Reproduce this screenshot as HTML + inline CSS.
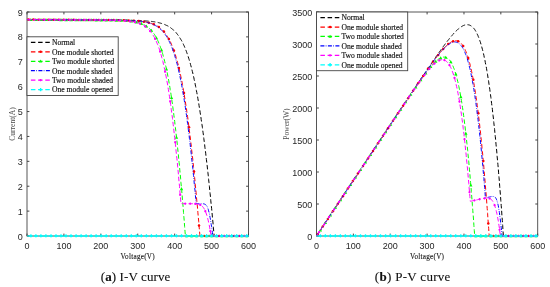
<!DOCTYPE html>
<html><head><meta charset="utf-8"><title>I-V and P-V curves</title><style>
html,body{margin:0;padding:0;background:#fff;}
body{width:550px;height:287px;overflow:hidden;}
svg{display:block;}

.tk{font-family:"Liberation Sans",Arial,sans-serif;font-size:9px;fill:#262626;}
.al{font-family:"Liberation Serif","Times New Roman",serif;font-size:7.2px;letter-spacing:0.25px;fill:#111;stroke:#111;stroke-width:0.1px;}
.yl{font-family:"Liberation Serif","Times New Roman",serif;font-size:7.5px;fill:#4a4a4a;}
.lg{font-family:"Liberation Serif","Times New Roman",serif;font-size:7.6px;fill:#111;stroke:#111;stroke-width:0.15px;}
.cap{font-family:"Liberation Serif","Times New Roman",serif;font-size:13px;letter-spacing:0.1px;fill:#111;stroke:#111;stroke-width:0.12px;}
</style></head>
<body>
<svg width="550" height="287" viewBox="0 0 550 287"><defs><clipPath id="clipL"><rect x="25.5" y="10.5" width="224.5" height="227.0"/></clipPath><clipPath id="clipR"><rect x="315.0" y="10.5" width="224.20000000000005" height="227.0"/></clipPath></defs><rect width="550" height="287" fill="#fff"/><rect x="27.0" y="12.0" width="221.5" height="224.0" fill="none" stroke="#444444" stroke-width="0.9"/><path d="M27.00 236.0v-2.4M27.00 12.0v2.4M63.92 236.0v-2.4M63.92 12.0v2.4M100.83 236.0v-2.4M100.83 12.0v2.4M137.75 236.0v-2.4M137.75 12.0v2.4M174.67 236.0v-2.4M174.67 12.0v2.4M211.58 236.0v-2.4M211.58 12.0v2.4M248.50 236.0v-2.4M248.50 12.0v2.4M27.0 236.00h2.4M248.5 236.00h-2.4M27.0 211.11h2.4M248.5 211.11h-2.4M27.0 186.22h2.4M248.5 186.22h-2.4M27.0 161.33h2.4M248.5 161.33h-2.4M27.0 136.44h2.4M248.5 136.44h-2.4M27.0 111.56h2.4M248.5 111.56h-2.4M27.0 86.67h2.4M248.5 86.67h-2.4M27.0 61.78h2.4M248.5 61.78h-2.4M27.0 36.89h2.4M248.5 36.89h-2.4M27.0 12.00h2.4M248.5 12.00h-2.4" stroke="#444444" stroke-width="1" fill="none"/><text x="27.00" y="248.6" text-anchor="middle" class="tk">0</text><text x="63.92" y="248.6" text-anchor="middle" class="tk">100</text><text x="100.83" y="248.6" text-anchor="middle" class="tk">200</text><text x="137.75" y="248.6" text-anchor="middle" class="tk">300</text><text x="174.67" y="248.6" text-anchor="middle" class="tk">400</text><text x="211.58" y="248.6" text-anchor="middle" class="tk">500</text><text x="248.50" y="248.6" text-anchor="middle" class="tk">600</text><text x="22.80" y="239.50" text-anchor="end" class="tk">0</text><text x="22.80" y="214.61" text-anchor="end" class="tk">1</text><text x="22.80" y="189.72" text-anchor="end" class="tk">2</text><text x="22.80" y="164.83" text-anchor="end" class="tk">3</text><text x="22.80" y="139.94" text-anchor="end" class="tk">4</text><text x="22.80" y="115.06" text-anchor="end" class="tk">5</text><text x="22.80" y="90.17" text-anchor="end" class="tk">6</text><text x="22.80" y="65.28" text-anchor="end" class="tk">7</text><text x="22.80" y="40.39" text-anchor="end" class="tk">8</text><text x="22.80" y="15.50" text-anchor="end" class="tk">9</text><text x="137.75" y="258.8" text-anchor="middle" class="al">Voltage(V)</text><text transform="translate(14.60,124.00) rotate(-90)" text-anchor="middle" class="yl">Current(A)</text><g clip-path="url(#clipL)"><polyline points="27.0,19.6 27.4,19.6 27.7,19.6 28.1,19.6 28.5,19.6 28.8,19.6 29.2,19.6 29.6,19.6 30.0,19.6 30.3,19.6 30.7,19.6 31.1,19.6 31.4,19.6 31.8,19.6 32.2,19.6 32.5,19.6 32.9,19.6 33.3,19.6 33.6,19.6 34.0,19.6 34.4,19.6 34.8,19.6 35.1,19.6 35.5,19.6 35.9,19.6 36.2,19.6 36.6,19.6 37.0,19.6 37.3,19.6 37.7,19.6 38.1,19.7 38.4,19.7 38.8,19.7 39.2,19.7 39.6,19.7 39.9,19.7 40.3,19.7 40.7,19.7 41.0,19.7 41.4,19.7 41.8,19.7 42.1,19.7 42.5,19.7 42.9,19.7 43.2,19.7 43.6,19.7 44.0,19.7 44.4,19.7 44.7,19.7 45.1,19.7 45.5,19.7 45.8,19.7 46.2,19.7 46.6,19.7 46.9,19.7 47.3,19.7 47.7,19.7 48.0,19.7 48.4,19.7 48.8,19.7 49.1,19.7 49.5,19.7 49.9,19.7 50.3,19.7 50.6,19.7 51.0,19.7 51.4,19.7 51.7,19.7 52.1,19.7 52.5,19.7 52.8,19.7 53.2,19.7 53.6,19.7 53.9,19.7 54.3,19.7 54.7,19.7 55.1,19.7 55.4,19.7 55.8,19.7 56.2,19.7 56.5,19.8 56.9,19.8 57.3,19.8 57.6,19.8 58.0,19.8 58.4,19.8 58.7,19.8 59.1,19.8 59.5,19.8 59.9,19.8 60.2,19.8 60.6,19.8 61.0,19.8 61.3,19.8 61.7,19.8 62.1,19.8 62.4,19.8 62.8,19.8 63.2,19.8 63.5,19.8 63.9,19.8 64.3,19.8 64.7,19.8 65.0,19.8 65.4,19.8 65.8,19.8 66.1,19.8 66.5,19.8 66.9,19.8 67.2,19.8 67.6,19.8 68.0,19.8 68.3,19.8 68.7,19.8 69.1,19.8 69.5,19.8 69.8,19.8 70.2,19.8 70.6,19.8 70.9,19.8 71.3,19.8 71.7,19.8 72.0,19.8 72.4,19.8 72.8,19.8 73.1,19.8 73.5,19.8 73.9,19.8 74.3,19.8 74.6,19.8 75.0,19.9 75.4,19.9 75.7,19.9 76.1,19.9 76.5,19.9 76.8,19.9 77.2,19.9 77.6,19.9 77.9,19.9 78.3,19.9 78.7,19.9 79.1,19.9 79.4,19.9 79.8,19.9 80.2,19.9 80.5,19.9 80.9,19.9 81.3,19.9 81.6,19.9 82.0,19.9 82.4,19.9 82.7,19.9 83.1,19.9 83.5,19.9 83.9,19.9 84.2,19.9 84.6,19.9 85.0,19.9 85.3,19.9 85.7,19.9 86.1,19.9 86.4,19.9 86.8,19.9 87.2,19.9 87.5,19.9 87.9,19.9 88.3,19.9 88.7,19.9 89.0,19.9 89.4,19.9 89.8,19.9 90.1,19.9 90.5,19.9 90.9,19.9 91.2,19.9 91.6,19.9 92.0,19.9 92.3,19.9 92.7,19.9 93.1,20.0 93.5,20.0 93.8,20.0 94.2,20.0 94.6,20.0 94.9,20.0 95.3,20.0 95.7,20.0 96.0,20.0 96.4,20.0 96.8,20.0 97.1,20.0 97.5,20.0 97.9,20.0 98.2,20.0 98.6,20.0 99.0,20.0 99.4,20.0 99.7,20.0 100.1,20.0 100.5,20.0 100.8,20.0 101.2,20.0 101.6,20.0 101.9,20.0 102.3,20.0 102.7,20.0 103.0,20.0 103.4,20.0 103.8,20.0 104.2,20.0 104.5,20.0 104.9,20.0 105.3,20.0 105.6,20.0 106.0,20.0 106.4,20.0 106.7,20.0 107.1,20.0 107.5,20.0 107.8,20.0 108.2,20.0 108.6,20.0 109.0,20.1 109.3,20.1 109.7,20.1 110.1,20.1 110.4,20.1 110.8,20.1 111.2,20.1 111.5,20.1 111.9,20.1 112.3,20.1 112.6,20.1 113.0,20.1 113.4,20.1 113.8,20.1 114.1,20.1 114.5,20.1 114.9,20.1 115.2,20.1 115.6,20.1 116.0,20.1 116.3,20.1 116.7,20.1 117.1,20.1 117.4,20.1 117.8,20.1 118.2,20.1 118.6,20.1 118.9,20.1 119.3,20.1 119.7,20.1 120.0,20.1 120.4,20.2 120.8,20.2 121.1,20.2 121.5,20.2 121.9,20.2 122.2,20.2 122.6,20.2 123.0,20.2 123.4,20.2 123.7,20.2 124.1,20.2 124.5,20.2 124.8,20.2 125.2,20.2 125.6,20.2 125.9,20.2 126.3,20.2 126.7,20.2 127.0,20.2 127.4,20.2 127.8,20.3 128.2,20.3 128.5,20.3 128.9,20.3 129.3,20.3 129.6,20.3 130.0,20.3 130.4,20.3 130.7,20.3 131.1,20.3 131.5,20.3 131.8,20.3 132.2,20.3 132.6,20.4 133.0,20.4 133.3,20.4 133.7,20.4 134.1,20.4 134.4,20.4 134.8,20.4 135.2,20.4 135.5,20.4 135.9,20.4 136.3,20.5 136.6,20.5 137.0,20.5 137.4,20.5 137.8,20.5 138.1,20.5 138.5,20.5 138.9,20.5 139.2,20.6 139.6,20.6 140.0,20.6 140.3,20.6 140.7,20.6 141.1,20.6 141.4,20.7 141.8,20.7 142.2,20.7 142.5,20.7 142.9,20.7 143.3,20.8 143.7,20.8 144.0,20.8 144.4,20.8 144.8,20.8 145.1,20.9 145.5,20.9 145.9,20.9 146.2,20.9 146.6,21.0 147.0,21.0 147.3,21.0 147.7,21.1 148.1,21.1 148.5,21.1 148.8,21.2 149.2,21.2 149.6,21.2 149.9,21.3 150.3,21.3 150.7,21.4 151.0,21.4 151.4,21.4 151.8,21.5 152.1,21.5 152.5,21.6 152.9,21.6 153.3,21.7 153.6,21.7 154.0,21.8 154.4,21.8 154.7,21.9 155.1,22.0 155.5,22.0 155.8,22.1 156.2,22.2 156.6,22.2 156.9,22.3 157.3,22.4 157.7,22.4 158.1,22.5 158.4,22.6 158.8,22.7 159.2,22.8 159.5,22.9 159.9,23.0 160.3,23.1 160.6,23.2 161.0,23.3 161.4,23.4 161.7,23.5 162.1,23.6 162.5,23.7 162.9,23.9 163.2,24.0 163.6,24.1 164.0,24.3 164.3,24.4 164.7,24.5 165.1,24.7 165.4,24.9 165.8,25.0 166.2,25.2 166.5,25.4 166.9,25.6 167.3,25.7 167.7,25.9 168.0,26.1 168.4,26.3 168.8,26.6 169.1,26.8 169.5,27.0 169.9,27.2 170.2,27.5 170.6,27.7 171.0,28.0 171.3,28.3 171.7,28.6 172.1,28.9 172.5,29.2 172.8,29.5 173.2,29.8 173.6,30.1 173.9,30.5 174.3,30.8 174.7,31.2 175.0,31.6 175.4,32.0 175.8,32.4 176.1,32.8 176.5,33.2 176.9,33.6 177.3,34.1 177.6,34.6 178.0,35.1 178.4,35.6 178.7,36.1 179.1,36.6 179.5,37.2 179.8,37.8 180.2,38.4 180.6,39.0 180.9,39.6 181.3,40.2 181.7,40.9 182.1,41.6 182.4,42.3 182.8,43.0 183.2,43.8 183.5,44.6 183.9,45.4 184.3,46.2 184.6,47.1 185.0,47.9 185.4,48.8 185.7,49.8 186.1,50.7 186.5,51.7 186.8,52.7 187.2,53.7 187.6,54.8 188.0,55.9 188.3,57.0 188.7,58.2 189.1,59.4 189.4,60.6 189.8,61.8 190.2,63.1 190.5,64.4 190.9,65.8 191.3,67.2 191.6,68.6 192.0,70.1 192.4,71.6 192.8,73.1 193.1,74.7 193.5,76.3 193.9,77.9 194.2,79.6 194.6,81.3 195.0,83.1 195.3,84.9 195.7,86.7 196.1,88.6 196.4,90.6 196.8,92.5 197.2,94.6 197.6,96.6 197.9,98.7 198.3,100.9 198.7,103.0 199.0,105.3 199.4,107.6 199.8,109.9 200.1,112.2 200.5,114.7 200.9,117.1 201.2,119.6 201.6,122.2 202.0,124.8 202.4,127.4 202.7,130.1 203.1,132.8 203.5,135.6 203.8,138.4 204.2,141.3 204.6,144.2 204.9,147.2 205.3,150.2 205.7,153.2 206.0,156.3 206.4,159.5 206.8,162.7 207.2,165.9 207.5,169.2 207.9,172.5 208.3,175.9 208.6,179.3 209.0,182.8 209.4,186.3 209.7,189.9 210.1,193.5 210.5,197.1 210.8,200.8 211.2,204.6 211.6,208.3 212.0,212.2 212.3,216.0 212.7,219.9 213.1,223.9 213.4,227.9 213.8,231.9 214.2,236.0 214.5,236.0 214.9,236.0 215.3,236.0 215.6,236.0 216.0,236.0 216.4,236.0 216.8,236.0 217.1,236.0 217.5,236.0 217.9,236.0 218.2,236.0 218.6,236.0 219.0,236.0 219.3,236.0 219.7,236.0 220.1,236.0 220.4,236.0 220.8,236.0 221.2,236.0 221.6,236.0 221.9,236.0 222.3,236.0 222.7,236.0 223.0,236.0 223.4,236.0 223.8,236.0 224.1,236.0 224.5,236.0 224.9,236.0 225.2,236.0 225.6,236.0 226.0,236.0 226.3,236.0 226.7,236.0 227.1,236.0 227.5,236.0 227.8,236.0 228.2,236.0 228.6,236.0 228.9,236.0 229.3,236.0 229.7,236.0 230.0,236.0 230.4,236.0 230.8,236.0 231.1,236.0 231.5,236.0 231.9,236.0 232.3,236.0 232.6,236.0 233.0,236.0 233.4,236.0 233.7,236.0 234.1,236.0 234.5,236.0 234.8,236.0 235.2,236.0 235.6,236.0 235.9,236.0 236.3,236.0 236.7,236.0 237.1,236.0 237.4,236.0 237.8,236.0 238.2,236.0 238.5,236.0 238.9,236.0 239.3,236.0 239.6,236.0 240.0,236.0 240.4,236.0 240.7,236.0 241.1,236.0 241.5,236.0 241.9,236.0 242.2,236.0 242.6,236.0 243.0,236.0 243.3,236.0 243.7,236.0 244.1,236.0 244.4,236.0 244.8,236.0 245.2,236.0 245.5,236.0 245.9,236.0 246.3,236.0 246.7,236.0 247.0,236.0 247.4,236.0 247.8,236.0 248.1,236.0 248.5,236.0" fill="none" stroke="#000000" stroke-width="1.0" stroke-dasharray="4.5 2.4"/><polyline points="27.0,19.6 27.4,19.6 27.7,19.6 28.1,19.6 28.5,19.6 28.8,19.6 29.2,19.6 29.6,19.6 30.0,19.6 30.3,19.6 30.7,19.6 31.1,19.6 31.4,19.6 31.8,19.6 32.2,19.6 32.5,19.6 32.9,19.6 33.3,19.6 33.6,19.6 34.0,19.6 34.4,19.6 34.8,19.6 35.1,19.6 35.5,19.6 35.9,19.6 36.2,19.6 36.6,19.6 37.0,19.6 37.3,19.6 37.7,19.6 38.1,19.7 38.4,19.7 38.8,19.7 39.2,19.7 39.6,19.7 39.9,19.7 40.3,19.7 40.7,19.7 41.0,19.7 41.4,19.7 41.8,19.7 42.1,19.7 42.5,19.7 42.9,19.7 43.2,19.7 43.6,19.7 44.0,19.7 44.4,19.7 44.7,19.7 45.1,19.7 45.5,19.7 45.8,19.7 46.2,19.7 46.6,19.7 46.9,19.7 47.3,19.7 47.7,19.7 48.0,19.7 48.4,19.7 48.8,19.7 49.1,19.7 49.5,19.7 49.9,19.7 50.3,19.7 50.6,19.7 51.0,19.7 51.4,19.7 51.7,19.7 52.1,19.7 52.5,19.7 52.8,19.7 53.2,19.7 53.6,19.7 53.9,19.7 54.3,19.7 54.7,19.7 55.1,19.7 55.4,19.7 55.8,19.7 56.2,19.7 56.5,19.8 56.9,19.8 57.3,19.8 57.6,19.8 58.0,19.8 58.4,19.8 58.7,19.8 59.1,19.8 59.5,19.8 59.9,19.8 60.2,19.8 60.6,19.8 61.0,19.8 61.3,19.8 61.7,19.8 62.1,19.8 62.4,19.8 62.8,19.8 63.2,19.8 63.5,19.8 63.9,19.8 64.3,19.8 64.7,19.8 65.0,19.8 65.4,19.8 65.8,19.8 66.1,19.8 66.5,19.8 66.9,19.8 67.2,19.8 67.6,19.8 68.0,19.8 68.3,19.8 68.7,19.8 69.1,19.8 69.5,19.8 69.8,19.8 70.2,19.8 70.6,19.8 70.9,19.8 71.3,19.8 71.7,19.8 72.0,19.8 72.4,19.8 72.8,19.8 73.1,19.8 73.5,19.8 73.9,19.8 74.3,19.8 74.6,19.8 75.0,19.9 75.4,19.9 75.7,19.9 76.1,19.9 76.5,19.9 76.8,19.9 77.2,19.9 77.6,19.9 77.9,19.9 78.3,19.9 78.7,19.9 79.1,19.9 79.4,19.9 79.8,19.9 80.2,19.9 80.5,19.9 80.9,19.9 81.3,19.9 81.6,19.9 82.0,19.9 82.4,19.9 82.7,19.9 83.1,19.9 83.5,19.9 83.9,19.9 84.2,19.9 84.6,19.9 85.0,19.9 85.3,19.9 85.7,19.9 86.1,19.9 86.4,19.9 86.8,19.9 87.2,19.9 87.5,19.9 87.9,19.9 88.3,19.9 88.7,19.9 89.0,19.9 89.4,19.9 89.8,19.9 90.1,19.9 90.5,19.9 90.9,19.9 91.2,19.9 91.6,19.9 92.0,19.9 92.3,19.9 92.7,20.0 93.1,20.0 93.5,20.0 93.8,20.0 94.2,20.0 94.6,20.0 94.9,20.0 95.3,20.0 95.7,20.0 96.0,20.0 96.4,20.0 96.8,20.0 97.1,20.0 97.5,20.0 97.9,20.0 98.2,20.0 98.6,20.0 99.0,20.0 99.4,20.0 99.7,20.0 100.1,20.0 100.5,20.0 100.8,20.0 101.2,20.0 101.6,20.0 101.9,20.0 102.3,20.0 102.7,20.0 103.0,20.0 103.4,20.0 103.8,20.0 104.2,20.0 104.5,20.0 104.9,20.0 105.3,20.0 105.6,20.0 106.0,20.0 106.4,20.0 106.7,20.1 107.1,20.1 107.5,20.1 107.8,20.1 108.2,20.1 108.6,20.1 109.0,20.1 109.3,20.1 109.7,20.1 110.1,20.1 110.4,20.1 110.8,20.1 111.2,20.1 111.5,20.1 111.9,20.1 112.3,20.1 112.6,20.1 113.0,20.1 113.4,20.1 113.8,20.1 114.1,20.1 114.5,20.1 114.9,20.1 115.2,20.1 115.6,20.1 116.0,20.1 116.3,20.2 116.7,20.2 117.1,20.2 117.4,20.2 117.8,20.2 118.2,20.2 118.6,20.2 118.9,20.2 119.3,20.2 119.7,20.2 120.0,20.2 120.4,20.2 120.8,20.2 121.1,20.2 121.5,20.2 121.9,20.2 122.2,20.3 122.6,20.3 123.0,20.3 123.4,20.3 123.7,20.3 124.1,20.3 124.5,20.3 124.8,20.3 125.2,20.3 125.6,20.3 125.9,20.3 126.3,20.4 126.7,20.4 127.0,20.4 127.4,20.4 127.8,20.4 128.2,20.4 128.5,20.4 128.9,20.4 129.3,20.5 129.6,20.5 130.0,20.5 130.4,20.5 130.7,20.5 131.1,20.5 131.5,20.5 131.8,20.6 132.2,20.6 132.6,20.6 133.0,20.6 133.3,20.6 133.7,20.7 134.1,20.7 134.4,20.7 134.8,20.7 135.2,20.8 135.5,20.8 135.9,20.8 136.3,20.8 136.6,20.9 137.0,20.9 137.4,20.9 137.8,20.9 138.1,21.0 138.5,21.0 138.9,21.0 139.2,21.1 139.6,21.1 140.0,21.2 140.3,21.2 140.7,21.2 141.1,21.3 141.4,21.3 141.8,21.4 142.2,21.4 142.5,21.5 142.9,21.5 143.3,21.6 143.7,21.6 144.0,21.7 144.4,21.7 144.8,21.8 145.1,21.9 145.5,21.9 145.9,22.0 146.2,22.1 146.6,22.2 147.0,22.2 147.3,22.3 147.7,22.4 148.1,22.5 148.5,22.6 148.8,22.7 149.2,22.8 149.6,22.9 149.9,23.0 150.3,23.1 150.7,23.2 151.0,23.3 151.4,23.4 151.8,23.5 152.1,23.7 152.5,23.8 152.9,23.9 153.3,24.1 153.6,24.2 154.0,24.4 154.4,24.6 154.7,24.7 155.1,24.9 155.5,25.1 155.8,25.3 156.2,25.5 156.6,25.7 156.9,25.9 157.3,26.1 157.7,26.3 158.1,26.6 158.4,26.8 158.8,27.1 159.2,27.3 159.5,27.6 159.9,27.9 160.3,28.2 160.6,28.5 161.0,28.8 161.4,29.1 161.7,29.4 162.1,29.8 162.5,30.1 162.9,30.5 163.2,30.9 163.6,31.3 164.0,31.7 164.3,32.2 164.7,32.6 165.1,33.1 165.4,33.6 165.8,34.0 166.2,34.6 166.5,35.1 166.9,35.6 167.3,36.2 167.7,36.8 168.0,37.4 168.4,38.0 168.8,38.7 169.1,39.4 169.5,40.1 169.9,40.8 170.2,41.5 170.6,42.3 171.0,43.1 171.3,43.9 171.7,44.8 172.1,45.7 172.5,46.6 172.8,47.5 173.2,48.5 173.6,49.4 173.9,50.5 174.3,51.5 174.7,52.6 175.0,53.7 175.4,54.9 175.8,56.1 176.1,57.3 176.5,58.6 176.9,59.9 177.3,61.2 177.6,62.6 178.0,64.0 178.4,65.5 178.7,67.0 179.1,68.5 179.5,70.1 179.8,71.7 180.2,73.4 180.6,75.1 180.9,76.8 181.3,78.6 181.7,80.5 182.1,82.4 182.4,84.3 182.8,86.3 183.2,88.3 183.5,90.4 183.9,92.6 184.3,94.8 184.6,97.0 185.0,99.3 185.4,101.6 185.7,104.0 186.1,106.4 186.5,108.9 186.8,111.5 187.2,114.1 187.6,116.7 188.0,119.4 188.3,122.2 188.7,125.0 189.1,127.9 189.4,130.8 189.8,133.8 190.2,136.8 190.5,139.9 190.9,143.0 191.3,146.2 191.6,149.5 192.0,152.8 192.4,156.1 192.8,159.5 193.1,163.0 193.5,166.5 193.9,170.1 194.2,173.7 194.6,177.4 195.0,181.1 195.3,184.9 195.7,188.7 196.1,192.6 196.4,196.5 196.8,200.5 197.2,204.6 197.6,208.7 197.9,212.8 198.3,217.0 198.7,221.2 199.0,225.5 199.4,229.9 199.8,234.3 200.1,236.0 200.5,236.0 200.9,236.0 201.2,236.0 201.6,236.0 202.0,236.0 202.4,236.0 202.7,236.0 203.1,236.0 203.5,236.0 203.8,236.0 204.2,236.0 204.6,236.0 204.9,236.0 205.3,236.0 205.7,236.0 206.0,236.0 206.4,236.0 206.8,236.0 207.2,236.0 207.5,236.0 207.9,236.0 208.3,236.0 208.6,236.0 209.0,236.0 209.4,236.0 209.7,236.0 210.1,236.0 210.5,236.0 210.8,236.0 211.2,236.0 211.6,236.0 212.0,236.0 212.3,236.0 212.7,236.0 213.1,236.0 213.4,236.0 213.8,236.0 214.2,236.0 214.5,236.0 214.9,236.0 215.3,236.0 215.6,236.0 216.0,236.0 216.4,236.0 216.8,236.0 217.1,236.0 217.5,236.0 217.9,236.0 218.2,236.0 218.6,236.0 219.0,236.0 219.3,236.0 219.7,236.0 220.1,236.0 220.4,236.0 220.8,236.0 221.2,236.0 221.6,236.0 221.9,236.0 222.3,236.0 222.7,236.0 223.0,236.0 223.4,236.0 223.8,236.0 224.1,236.0 224.5,236.0 224.9,236.0 225.2,236.0 225.6,236.0 226.0,236.0 226.3,236.0 226.7,236.0 227.1,236.0 227.5,236.0 227.8,236.0 228.2,236.0 228.6,236.0 228.9,236.0 229.3,236.0 229.7,236.0 230.0,236.0 230.4,236.0 230.8,236.0 231.1,236.0 231.5,236.0 231.9,236.0 232.3,236.0 232.6,236.0 233.0,236.0 233.4,236.0 233.7,236.0 234.1,236.0 234.5,236.0 234.8,236.0 235.2,236.0 235.6,236.0 235.9,236.0 236.3,236.0 236.7,236.0 237.1,236.0 237.4,236.0 237.8,236.0 238.2,236.0 238.5,236.0 238.9,236.0 239.3,236.0 239.6,236.0 240.0,236.0 240.4,236.0 240.7,236.0 241.1,236.0 241.5,236.0 241.9,236.0 242.2,236.0 242.6,236.0 243.0,236.0 243.3,236.0 243.7,236.0 244.1,236.0 244.4,236.0 244.8,236.0 245.2,236.0 245.5,236.0 245.9,236.0 246.3,236.0 246.7,236.0 247.0,236.0 247.4,236.0 247.8,236.0 248.1,236.0 248.5,236.0" fill="none" stroke="#ff0000" stroke-width="1.0" stroke-dasharray="4.5 2.4"/><g fill="#ff0000"><circle cx="28.3" cy="19.6" r="1.25"/><circle cx="33.3" cy="19.6" r="1.25"/><circle cx="38.4" cy="19.7" r="1.25"/><circle cx="43.4" cy="19.7" r="1.25"/><circle cx="48.4" cy="19.7" r="1.25"/><circle cx="53.4" cy="19.7" r="1.25"/><circle cx="58.5" cy="19.8" r="1.25"/><circle cx="63.5" cy="19.8" r="1.25"/><circle cx="68.5" cy="19.8" r="1.25"/><circle cx="73.5" cy="19.8" r="1.25"/><circle cx="78.5" cy="19.9" r="1.25"/><circle cx="83.6" cy="19.9" r="1.25"/><circle cx="88.6" cy="19.9" r="1.25"/><circle cx="93.6" cy="20.0" r="1.25"/><circle cx="98.6" cy="20.0" r="1.25"/><circle cx="103.6" cy="20.0" r="1.25"/><circle cx="108.7" cy="20.1" r="1.25"/><circle cx="113.7" cy="20.1" r="1.25"/><circle cx="118.7" cy="20.2" r="1.25"/><circle cx="123.7" cy="20.3" r="1.25"/><circle cx="128.7" cy="20.4" r="1.25"/><circle cx="133.8" cy="20.7" r="1.25"/><circle cx="138.8" cy="21.0" r="1.25"/><circle cx="143.8" cy="21.7" r="1.25"/><circle cx="148.8" cy="22.7" r="1.25"/><circle cx="153.8" cy="24.3" r="1.25"/><circle cx="158.9" cy="27.1" r="1.25"/><circle cx="163.9" cy="31.6" r="1.25"/><circle cx="168.9" cy="39.0" r="1.25"/><circle cx="173.9" cy="50.5" r="1.25"/><circle cx="178.9" cy="67.9" r="1.25"/><circle cx="184.0" cy="93.0" r="1.25"/><circle cx="189.0" cy="127.3" r="1.25"/><circle cx="194.0" cy="171.5" r="1.25"/><circle cx="199.0" cy="225.5" r="1.25"/><circle cx="204.1" cy="236.0" r="1.25"/><circle cx="209.1" cy="236.0" r="1.25"/><circle cx="214.1" cy="236.0" r="1.25"/><circle cx="219.1" cy="236.0" r="1.25"/><circle cx="224.1" cy="236.0" r="1.25"/><circle cx="229.2" cy="236.0" r="1.25"/><circle cx="234.2" cy="236.0" r="1.25"/><circle cx="239.2" cy="236.0" r="1.25"/><circle cx="244.2" cy="236.0" r="1.25"/></g><polyline points="27.0,19.6 27.4,19.6 27.7,19.6 28.1,19.6 28.5,19.6 28.8,19.6 29.2,19.6 29.6,19.6 30.0,19.6 30.3,19.6 30.7,19.6 31.1,19.6 31.4,19.6 31.8,19.6 32.2,19.6 32.5,19.6 32.9,19.6 33.3,19.6 33.6,19.6 34.0,19.6 34.4,19.6 34.8,19.6 35.1,19.6 35.5,19.6 35.9,19.6 36.2,19.6 36.6,19.6 37.0,19.6 37.3,19.6 37.7,19.6 38.1,19.7 38.4,19.7 38.8,19.7 39.2,19.7 39.6,19.7 39.9,19.7 40.3,19.7 40.7,19.7 41.0,19.7 41.4,19.7 41.8,19.7 42.1,19.7 42.5,19.7 42.9,19.7 43.2,19.7 43.6,19.7 44.0,19.7 44.4,19.7 44.7,19.7 45.1,19.7 45.5,19.7 45.8,19.7 46.2,19.7 46.6,19.7 46.9,19.7 47.3,19.7 47.7,19.7 48.0,19.7 48.4,19.7 48.8,19.7 49.1,19.7 49.5,19.7 49.9,19.7 50.3,19.7 50.6,19.7 51.0,19.7 51.4,19.7 51.7,19.7 52.1,19.7 52.5,19.7 52.8,19.7 53.2,19.7 53.6,19.7 53.9,19.7 54.3,19.7 54.7,19.7 55.1,19.7 55.4,19.7 55.8,19.7 56.2,19.7 56.5,19.8 56.9,19.8 57.3,19.8 57.6,19.8 58.0,19.8 58.4,19.8 58.7,19.8 59.1,19.8 59.5,19.8 59.9,19.8 60.2,19.8 60.6,19.8 61.0,19.8 61.3,19.8 61.7,19.8 62.1,19.8 62.4,19.8 62.8,19.8 63.2,19.8 63.5,19.8 63.9,19.8 64.3,19.8 64.7,19.8 65.0,19.8 65.4,19.8 65.8,19.8 66.1,19.8 66.5,19.8 66.9,19.8 67.2,19.8 67.6,19.8 68.0,19.8 68.3,19.8 68.7,19.8 69.1,19.8 69.5,19.8 69.8,19.8 70.2,19.8 70.6,19.8 70.9,19.8 71.3,19.8 71.7,19.8 72.0,19.8 72.4,19.8 72.8,19.8 73.1,19.8 73.5,19.8 73.9,19.8 74.3,19.8 74.6,19.8 75.0,19.9 75.4,19.9 75.7,19.9 76.1,19.9 76.5,19.9 76.8,19.9 77.2,19.9 77.6,19.9 77.9,19.9 78.3,19.9 78.7,19.9 79.1,19.9 79.4,19.9 79.8,19.9 80.2,19.9 80.5,19.9 80.9,19.9 81.3,19.9 81.6,19.9 82.0,19.9 82.4,19.9 82.7,19.9 83.1,19.9 83.5,19.9 83.9,19.9 84.2,19.9 84.6,19.9 85.0,19.9 85.3,19.9 85.7,19.9 86.1,19.9 86.4,19.9 86.8,19.9 87.2,19.9 87.5,19.9 87.9,19.9 88.3,19.9 88.7,19.9 89.0,19.9 89.4,19.9 89.8,19.9 90.1,19.9 90.5,19.9 90.9,19.9 91.2,19.9 91.6,20.0 92.0,20.0 92.3,20.0 92.7,20.0 93.1,20.0 93.5,20.0 93.8,20.0 94.2,20.0 94.6,20.0 94.9,20.0 95.3,20.0 95.7,20.0 96.0,20.0 96.4,20.0 96.8,20.0 97.1,20.0 97.5,20.0 97.9,20.0 98.2,20.0 98.6,20.0 99.0,20.0 99.4,20.0 99.7,20.0 100.1,20.0 100.5,20.0 100.8,20.0 101.2,20.0 101.6,20.0 101.9,20.0 102.3,20.0 102.7,20.0 103.0,20.0 103.4,20.0 103.8,20.1 104.2,20.1 104.5,20.1 104.9,20.1 105.3,20.1 105.6,20.1 106.0,20.1 106.4,20.1 106.7,20.1 107.1,20.1 107.5,20.1 107.8,20.1 108.2,20.1 108.6,20.1 109.0,20.1 109.3,20.1 109.7,20.1 110.1,20.1 110.4,20.1 110.8,20.1 111.2,20.2 111.5,20.2 111.9,20.2 112.3,20.2 112.6,20.2 113.0,20.2 113.4,20.2 113.8,20.2 114.1,20.2 114.5,20.2 114.9,20.2 115.2,20.2 115.6,20.2 116.0,20.3 116.3,20.3 116.7,20.3 117.1,20.3 117.4,20.3 117.8,20.3 118.2,20.3 118.6,20.3 118.9,20.3 119.3,20.4 119.7,20.4 120.0,20.4 120.4,20.4 120.8,20.4 121.1,20.4 121.5,20.4 121.9,20.5 122.2,20.5 122.6,20.5 123.0,20.5 123.4,20.5 123.7,20.6 124.1,20.6 124.5,20.6 124.8,20.6 125.2,20.6 125.6,20.7 125.9,20.7 126.3,20.7 126.7,20.7 127.0,20.8 127.4,20.8 127.8,20.8 128.2,20.9 128.5,20.9 128.9,20.9 129.3,21.0 129.6,21.0 130.0,21.1 130.4,21.1 130.7,21.1 131.1,21.2 131.5,21.2 131.8,21.3 132.2,21.3 132.6,21.4 133.0,21.4 133.3,21.5 133.7,21.5 134.1,21.6 134.4,21.7 134.8,21.7 135.2,21.8 135.5,21.9 135.9,22.0 136.3,22.0 136.6,22.1 137.0,22.2 137.4,22.3 137.8,22.4 138.1,22.5 138.5,22.6 138.9,22.7 139.2,22.8 139.6,22.9 140.0,23.0 140.3,23.1 140.7,23.3 141.1,23.4 141.4,23.5 141.8,23.7 142.2,23.8 142.5,24.0 142.9,24.2 143.3,24.3 143.7,24.5 144.0,24.7 144.4,24.9 144.8,25.1 145.1,25.3 145.5,25.5 145.9,25.7 146.2,26.0 146.6,26.2 147.0,26.5 147.3,26.7 147.7,27.0 148.1,27.3 148.5,27.6 148.8,27.9 149.2,28.2 149.6,28.6 149.9,28.9 150.3,29.3 150.7,29.6 151.0,30.0 151.4,30.4 151.8,30.9 152.1,31.3 152.5,31.8 152.9,32.2 153.3,32.7 153.6,33.3 154.0,33.8 154.4,34.3 154.7,34.9 155.1,35.5 155.5,36.1 155.8,36.8 156.2,37.4 156.6,38.1 156.9,38.9 157.3,39.6 157.7,40.4 158.1,41.2 158.4,42.0 158.8,42.9 159.2,43.8 159.5,44.7 159.9,45.6 160.3,46.6 160.6,47.7 161.0,48.7 161.4,49.8 161.7,51.0 162.1,52.1 162.5,53.3 162.9,54.6 163.2,55.9 163.6,57.2 164.0,58.6 164.3,60.0 164.7,61.5 165.1,63.0 165.4,64.6 165.8,66.2 166.2,67.9 166.5,69.6 166.9,71.3 167.3,73.1 167.7,75.0 168.0,76.9 168.4,78.9 168.8,80.9 169.1,83.0 169.5,85.2 169.9,87.4 170.2,89.6 170.6,91.9 171.0,94.3 171.3,96.7 171.7,99.2 172.1,101.8 172.5,104.4 172.8,107.1 173.2,109.8 173.6,112.6 173.9,115.5 174.3,118.4 174.7,121.4 175.0,124.5 175.4,127.6 175.8,130.8 176.1,134.0 176.5,137.3 176.9,140.7 177.3,144.2 177.6,147.7 178.0,151.3 178.4,154.9 178.7,158.6 179.1,162.4 179.5,166.2 179.8,170.1 180.2,174.1 180.6,178.1 180.9,182.2 181.3,186.3 181.7,190.5 182.1,194.8 182.4,199.1 182.8,203.5 183.2,208.0 183.5,212.5 183.9,217.1 184.3,221.7 184.6,226.4 185.0,231.2 185.4,236.0 185.7,236.0 186.1,236.0 186.5,236.0 186.8,236.0 187.2,236.0 187.6,236.0 188.0,236.0 188.3,236.0 188.7,236.0 189.1,236.0 189.4,236.0 189.8,236.0 190.2,236.0 190.5,236.0 190.9,236.0 191.3,236.0 191.6,236.0 192.0,236.0 192.4,236.0 192.8,236.0 193.1,236.0 193.5,236.0 193.9,236.0 194.2,236.0 194.6,236.0 195.0,236.0 195.3,236.0 195.7,236.0 196.1,236.0 196.4,236.0 196.8,236.0 197.2,236.0 197.6,236.0 197.9,236.0 198.3,236.0 198.7,236.0 199.0,236.0 199.4,236.0 199.8,236.0 200.1,236.0 200.5,236.0 200.9,236.0 201.2,236.0 201.6,236.0 202.0,236.0 202.4,236.0 202.7,236.0 203.1,236.0 203.5,236.0 203.8,236.0 204.2,236.0 204.6,236.0 204.9,236.0 205.3,236.0 205.7,236.0 206.0,236.0 206.4,236.0 206.8,236.0 207.2,236.0 207.5,236.0 207.9,236.0 208.3,236.0 208.6,236.0 209.0,236.0 209.4,236.0 209.7,236.0 210.1,236.0 210.5,236.0 210.8,236.0 211.2,236.0 211.6,236.0 212.0,236.0 212.3,236.0 212.7,236.0 213.1,236.0 213.4,236.0 213.8,236.0 214.2,236.0 214.5,236.0 214.9,236.0 215.3,236.0 215.6,236.0 216.0,236.0 216.4,236.0 216.8,236.0 217.1,236.0 217.5,236.0 217.9,236.0 218.2,236.0 218.6,236.0 219.0,236.0 219.3,236.0 219.7,236.0 220.1,236.0 220.4,236.0 220.8,236.0 221.2,236.0 221.6,236.0 221.9,236.0 222.3,236.0 222.7,236.0 223.0,236.0 223.4,236.0 223.8,236.0 224.1,236.0 224.5,236.0 224.9,236.0 225.2,236.0 225.6,236.0 226.0,236.0 226.3,236.0 226.7,236.0 227.1,236.0 227.5,236.0 227.8,236.0 228.2,236.0 228.6,236.0 228.9,236.0 229.3,236.0 229.7,236.0 230.0,236.0 230.4,236.0 230.8,236.0 231.1,236.0 231.5,236.0 231.9,236.0 232.3,236.0 232.6,236.0 233.0,236.0 233.4,236.0 233.7,236.0 234.1,236.0 234.5,236.0 234.8,236.0 235.2,236.0 235.6,236.0 235.9,236.0 236.3,236.0 236.7,236.0 237.1,236.0 237.4,236.0 237.8,236.0 238.2,236.0 238.5,236.0 238.9,236.0 239.3,236.0 239.6,236.0 240.0,236.0 240.4,236.0 240.7,236.0 241.1,236.0 241.5,236.0 241.9,236.0 242.2,236.0 242.6,236.0 243.0,236.0 243.3,236.0 243.7,236.0 244.1,236.0 244.4,236.0 244.8,236.0 245.2,236.0 245.5,236.0 245.9,236.0 246.3,236.0 246.7,236.0 247.0,236.0 247.4,236.0 247.8,236.0 248.1,236.0 248.5,236.0" fill="none" stroke="#00ff00" stroke-width="1.0" stroke-dasharray="4.5 2.4"/><g fill="#00ff00"><path d="M30.9 17.9l1.7 3.1h-3.4z"/><path d="M35.9 17.9l1.7 3.1h-3.4z"/><path d="M41.0 18.0l1.7 3.1h-3.4z"/><path d="M46.0 18.0l1.7 3.1h-3.4z"/><path d="M51.0 18.0l1.7 3.1h-3.4z"/><path d="M56.0 18.0l1.7 3.1h-3.4z"/><path d="M61.0 18.1l1.7 3.1h-3.4z"/><path d="M66.1 18.1l1.7 3.1h-3.4z"/><path d="M71.1 18.1l1.7 3.1h-3.4z"/><path d="M76.1 18.2l1.7 3.1h-3.4z"/><path d="M81.1 18.2l1.7 3.1h-3.4z"/><path d="M86.1 18.2l1.7 3.1h-3.4z"/><path d="M91.2 18.2l1.7 3.1h-3.4z"/><path d="M96.2 18.3l1.7 3.1h-3.4z"/><path d="M101.2 18.3l1.7 3.1h-3.4z"/><path d="M106.2 18.4l1.7 3.1h-3.4z"/><path d="M111.2 18.5l1.7 3.1h-3.4z"/><path d="M116.3 18.6l1.7 3.1h-3.4z"/><path d="M121.3 18.7l1.7 3.1h-3.4z"/><path d="M126.3 19.0l1.7 3.1h-3.4z"/><path d="M131.3 19.5l1.7 3.1h-3.4z"/><path d="M136.3 20.4l1.7 3.1h-3.4z"/><path d="M141.4 21.8l1.7 3.1h-3.4z"/><path d="M146.4 24.4l1.7 3.1h-3.4z"/><path d="M151.4 28.7l1.7 3.1h-3.4z"/><path d="M156.4 36.2l1.7 3.1h-3.4z"/><path d="M161.5 48.3l1.7 3.1h-3.4z"/><path d="M166.5 67.5l1.7 3.1h-3.4z"/><path d="M171.5 96.0l1.7 3.1h-3.4z"/><path d="M176.5 135.6l1.7 3.1h-3.4z"/><path d="M181.5 187.1l1.7 3.1h-3.4z"/><path d="M186.6 234.3l1.7 3.1h-3.4z"/><path d="M191.6 234.3l1.7 3.1h-3.4z"/><path d="M196.6 234.3l1.7 3.1h-3.4z"/><path d="M201.6 234.3l1.7 3.1h-3.4z"/><path d="M206.6 234.3l1.7 3.1h-3.4z"/><path d="M211.7 234.3l1.7 3.1h-3.4z"/><path d="M216.7 234.3l1.7 3.1h-3.4z"/><path d="M221.7 234.3l1.7 3.1h-3.4z"/><path d="M226.7 234.3l1.7 3.1h-3.4z"/><path d="M231.7 234.3l1.7 3.1h-3.4z"/><path d="M236.8 234.3l1.7 3.1h-3.4z"/><path d="M241.8 234.3l1.7 3.1h-3.4z"/><path d="M246.8 234.3l1.7 3.1h-3.4z"/></g><polyline points="27.0,19.6 27.4,19.6 27.7,19.6 28.1,19.6 28.5,19.6 28.8,19.6 29.2,19.6 29.6,19.6 30.0,19.6 30.3,19.6 30.7,19.6 31.1,19.6 31.4,19.6 31.8,19.6 32.2,19.6 32.5,19.6 32.9,19.6 33.3,19.6 33.6,19.6 34.0,19.6 34.4,19.6 34.8,19.6 35.1,19.6 35.5,19.6 35.9,19.6 36.2,19.6 36.6,19.6 37.0,19.6 37.3,19.6 37.7,19.6 38.1,19.7 38.4,19.7 38.8,19.7 39.2,19.7 39.6,19.7 39.9,19.7 40.3,19.7 40.7,19.7 41.0,19.7 41.4,19.7 41.8,19.7 42.1,19.7 42.5,19.7 42.9,19.7 43.2,19.7 43.6,19.7 44.0,19.7 44.4,19.7 44.7,19.7 45.1,19.7 45.5,19.7 45.8,19.7 46.2,19.7 46.6,19.7 46.9,19.7 47.3,19.7 47.7,19.7 48.0,19.7 48.4,19.7 48.8,19.7 49.1,19.7 49.5,19.7 49.9,19.7 50.3,19.7 50.6,19.7 51.0,19.7 51.4,19.7 51.7,19.7 52.1,19.7 52.5,19.7 52.8,19.7 53.2,19.7 53.6,19.7 53.9,19.7 54.3,19.7 54.7,19.7 55.1,19.7 55.4,19.7 55.8,19.7 56.2,19.7 56.5,19.8 56.9,19.8 57.3,19.8 57.6,19.8 58.0,19.8 58.4,19.8 58.7,19.8 59.1,19.8 59.5,19.8 59.9,19.8 60.2,19.8 60.6,19.8 61.0,19.8 61.3,19.8 61.7,19.8 62.1,19.8 62.4,19.8 62.8,19.8 63.2,19.8 63.5,19.8 63.9,19.8 64.3,19.8 64.7,19.8 65.0,19.8 65.4,19.8 65.8,19.8 66.1,19.8 66.5,19.8 66.9,19.8 67.2,19.8 67.6,19.8 68.0,19.8 68.3,19.8 68.7,19.8 69.1,19.8 69.5,19.8 69.8,19.8 70.2,19.8 70.6,19.8 70.9,19.8 71.3,19.8 71.7,19.8 72.0,19.8 72.4,19.8 72.8,19.8 73.1,19.8 73.5,19.8 73.9,19.8 74.3,19.8 74.6,19.8 75.0,19.9 75.4,19.9 75.7,19.9 76.1,19.9 76.5,19.9 76.8,19.9 77.2,19.9 77.6,19.9 77.9,19.9 78.3,19.9 78.7,19.9 79.1,19.9 79.4,19.9 79.8,19.9 80.2,19.9 80.5,19.9 80.9,19.9 81.3,19.9 81.6,19.9 82.0,19.9 82.4,19.9 82.7,19.9 83.1,19.9 83.5,19.9 83.9,19.9 84.2,19.9 84.6,19.9 85.0,19.9 85.3,19.9 85.7,19.9 86.1,19.9 86.4,19.9 86.8,19.9 87.2,19.9 87.5,19.9 87.9,19.9 88.3,19.9 88.7,19.9 89.0,19.9 89.4,19.9 89.8,19.9 90.1,19.9 90.5,19.9 90.9,19.9 91.2,19.9 91.6,19.9 92.0,19.9 92.3,20.0 92.7,20.0 93.1,20.0 93.5,20.0 93.8,20.0 94.2,20.0 94.6,20.0 94.9,20.0 95.3,20.0 95.7,20.0 96.0,20.0 96.4,20.0 96.8,20.0 97.1,20.0 97.5,20.0 97.9,20.0 98.2,20.0 98.6,20.0 99.0,20.0 99.4,20.0 99.7,20.0 100.1,20.0 100.5,20.0 100.8,20.0 101.2,20.0 101.6,20.0 101.9,20.0 102.3,20.0 102.7,20.0 103.0,20.0 103.4,20.0 103.8,20.0 104.2,20.0 104.5,20.0 104.9,20.0 105.3,20.0 105.6,20.0 106.0,20.0 106.4,20.1 106.7,20.1 107.1,20.1 107.5,20.1 107.8,20.1 108.2,20.1 108.6,20.1 109.0,20.1 109.3,20.1 109.7,20.1 110.1,20.1 110.4,20.1 110.8,20.1 111.2,20.1 111.5,20.1 111.9,20.1 112.3,20.1 112.6,20.1 113.0,20.1 113.4,20.1 113.8,20.1 114.1,20.1 114.5,20.1 114.9,20.1 115.2,20.1 115.6,20.2 116.0,20.2 116.3,20.2 116.7,20.2 117.1,20.2 117.4,20.2 117.8,20.2 118.2,20.2 118.6,20.2 118.9,20.2 119.3,20.2 119.7,20.2 120.0,20.2 120.4,20.2 120.8,20.2 121.1,20.2 121.5,20.3 121.9,20.3 122.2,20.3 122.6,20.3 123.0,20.3 123.4,20.3 123.7,20.3 124.1,20.3 124.5,20.3 124.8,20.3 125.2,20.3 125.6,20.4 125.9,20.4 126.3,20.4 126.7,20.4 127.0,20.4 127.4,20.4 127.8,20.4 128.2,20.4 128.5,20.5 128.9,20.5 129.3,20.5 129.6,20.5 130.0,20.5 130.4,20.5 130.7,20.6 131.1,20.6 131.5,20.6 131.8,20.6 132.2,20.6 132.6,20.6 133.0,20.7 133.3,20.7 133.7,20.7 134.1,20.7 134.4,20.8 134.8,20.8 135.2,20.8 135.5,20.8 135.9,20.9 136.3,20.9 136.6,20.9 137.0,21.0 137.4,21.0 137.8,21.0 138.1,21.1 138.5,21.1 138.9,21.1 139.2,21.2 139.6,21.2 140.0,21.3 140.3,21.3 140.7,21.3 141.1,21.4 141.4,21.4 141.8,21.5 142.2,21.5 142.5,21.6 142.9,21.7 143.3,21.7 143.7,21.8 144.0,21.8 144.4,21.9 144.8,22.0 145.1,22.0 145.5,22.1 145.9,22.2 146.2,22.3 146.6,22.3 147.0,22.4 147.3,22.5 147.7,22.6 148.1,22.7 148.5,22.8 148.8,22.9 149.2,23.0 149.6,23.1 149.9,23.2 150.3,23.4 150.7,23.5 151.0,23.6 151.4,23.7 151.8,23.9 152.1,24.0 152.5,24.2 152.9,24.3 153.3,24.5 153.6,24.6 154.0,24.8 154.4,25.0 154.7,25.2 155.1,25.4 155.5,25.6 155.8,25.8 156.2,26.0 156.6,26.2 156.9,26.4 157.3,26.7 157.7,26.9 158.1,27.2 158.4,27.4 158.8,27.7 159.2,28.0 159.5,28.3 159.9,28.6 160.3,28.9 160.6,29.3 161.0,29.6 161.4,30.0 161.7,30.3 162.1,30.7 162.5,31.1 162.9,31.5 163.2,31.9 163.6,32.4 164.0,32.8 164.3,33.3 164.7,33.8 165.1,34.3 165.4,34.8 165.8,35.4 166.2,35.9 166.5,36.5 166.9,37.1 167.3,37.7 167.7,38.4 168.0,39.0 168.4,39.7 168.8,40.4 169.1,41.2 169.5,41.9 169.9,42.7 170.2,43.5 170.6,44.3 171.0,45.2 171.3,46.1 171.7,47.0 172.1,48.0 172.5,48.9 172.8,49.9 173.2,51.0 173.6,52.1 173.9,53.2 174.3,54.3 174.7,55.5 175.0,56.7 175.4,57.9 175.8,59.2 176.1,60.5 176.5,61.9 176.9,63.3 177.3,64.7 177.6,66.2 178.0,67.7 178.4,69.3 178.7,70.9 179.1,72.5 179.5,74.2 179.8,76.0 180.2,77.7 180.6,79.6 180.9,81.4 181.3,83.3 181.7,85.3 182.1,87.3 182.4,89.4 182.8,91.5 183.2,93.7 183.5,95.9 183.9,98.1 184.3,100.4 184.6,102.8 185.0,105.2 185.4,107.7 185.7,110.2 186.1,112.8 186.5,115.4 186.8,118.1 187.2,120.8 187.6,123.6 188.0,126.4 188.3,129.3 188.7,132.3 189.1,135.3 189.4,138.3 189.8,141.4 190.2,144.6 190.5,147.8 190.9,151.1 191.3,154.4 191.6,157.8 192.0,161.2 192.4,164.7 192.8,168.3 193.1,171.9 193.5,175.5 193.9,179.2 194.2,183.0 194.6,186.8 195.0,190.6 195.3,194.6 195.7,198.5 196.1,202.5 196.4,203.6 196.8,203.6 197.2,203.6 197.6,203.6 197.9,203.6 198.3,203.6 198.7,203.6 199.0,203.7 199.4,203.7 199.8,203.7 200.1,203.7 200.5,203.7 200.9,203.7 201.2,203.7 201.6,203.7 202.0,203.7 202.4,203.7 202.7,203.8 203.1,203.8 203.5,203.8 203.8,203.9 204.2,204.0 204.6,204.1 204.9,204.3 205.3,204.5 205.7,204.7 206.0,205.1 206.4,205.5 206.8,206.0 207.2,206.6 207.5,207.4 207.9,208.4 208.3,209.5 208.6,210.8 209.0,212.2 209.4,213.8 209.7,215.6 210.1,217.6 210.5,219.7 210.8,221.9 211.2,224.3 211.6,226.8 212.0,229.5 212.3,232.2 212.7,235.1 213.1,236.0 213.4,236.0 213.8,236.0 214.2,236.0 214.5,236.0 214.9,236.0 215.3,236.0 215.6,236.0 216.0,236.0 216.4,236.0 216.8,236.0 217.1,236.0 217.5,236.0 217.9,236.0 218.2,236.0 218.6,236.0 219.0,236.0 219.3,236.0 219.7,236.0 220.1,236.0 220.4,236.0 220.8,236.0 221.2,236.0 221.6,236.0 221.9,236.0 222.3,236.0 222.7,236.0 223.0,236.0 223.4,236.0 223.8,236.0 224.1,236.0 224.5,236.0 224.9,236.0 225.2,236.0 225.6,236.0 226.0,236.0 226.3,236.0 226.7,236.0 227.1,236.0 227.5,236.0 227.8,236.0 228.2,236.0 228.6,236.0 228.9,236.0 229.3,236.0 229.7,236.0 230.0,236.0 230.4,236.0 230.8,236.0 231.1,236.0 231.5,236.0 231.9,236.0 232.3,236.0 232.6,236.0 233.0,236.0 233.4,236.0 233.7,236.0 234.1,236.0 234.5,236.0 234.8,236.0 235.2,236.0 235.6,236.0 235.9,236.0 236.3,236.0 236.7,236.0 237.1,236.0 237.4,236.0 237.8,236.0 238.2,236.0 238.5,236.0 238.9,236.0 239.3,236.0 239.6,236.0 240.0,236.0 240.4,236.0 240.7,236.0 241.1,236.0 241.5,236.0 241.9,236.0 242.2,236.0 242.6,236.0 243.0,236.0 243.3,236.0 243.7,236.0 244.1,236.0 244.4,236.0 244.8,236.0 245.2,236.0 245.5,236.0 245.9,236.0 246.3,236.0 246.7,236.0 247.0,236.0 247.4,236.0 247.8,236.0 248.1,236.0 248.5,236.0" fill="none" stroke="#0000ff" stroke-width="1.0" stroke-dasharray="4 1.3 0.7 1.5"/><polyline points="27.0,19.6 27.4,19.6 27.7,19.6 28.1,19.6 28.5,19.6 28.8,19.6 29.2,19.6 29.6,19.6 30.0,19.6 30.3,19.6 30.7,19.6 31.1,19.6 31.4,19.6 31.8,19.6 32.2,19.6 32.5,19.6 32.9,19.6 33.3,19.6 33.6,19.6 34.0,19.6 34.4,19.6 34.8,19.6 35.1,19.6 35.5,19.6 35.9,19.6 36.2,19.6 36.6,19.6 37.0,19.6 37.3,19.6 37.7,19.6 38.1,19.7 38.4,19.7 38.8,19.7 39.2,19.7 39.6,19.7 39.9,19.7 40.3,19.7 40.7,19.7 41.0,19.7 41.4,19.7 41.8,19.7 42.1,19.7 42.5,19.7 42.9,19.7 43.2,19.7 43.6,19.7 44.0,19.7 44.4,19.7 44.7,19.7 45.1,19.7 45.5,19.7 45.8,19.7 46.2,19.7 46.6,19.7 46.9,19.7 47.3,19.7 47.7,19.7 48.0,19.7 48.4,19.7 48.8,19.7 49.1,19.7 49.5,19.7 49.9,19.7 50.3,19.7 50.6,19.7 51.0,19.7 51.4,19.7 51.7,19.7 52.1,19.7 52.5,19.7 52.8,19.7 53.2,19.7 53.6,19.7 53.9,19.7 54.3,19.7 54.7,19.7 55.1,19.7 55.4,19.7 55.8,19.7 56.2,19.7 56.5,19.8 56.9,19.8 57.3,19.8 57.6,19.8 58.0,19.8 58.4,19.8 58.7,19.8 59.1,19.8 59.5,19.8 59.9,19.8 60.2,19.8 60.6,19.8 61.0,19.8 61.3,19.8 61.7,19.8 62.1,19.8 62.4,19.8 62.8,19.8 63.2,19.8 63.5,19.8 63.9,19.8 64.3,19.8 64.7,19.8 65.0,19.8 65.4,19.8 65.8,19.8 66.1,19.8 66.5,19.8 66.9,19.8 67.2,19.8 67.6,19.8 68.0,19.8 68.3,19.8 68.7,19.8 69.1,19.8 69.5,19.8 69.8,19.8 70.2,19.8 70.6,19.8 70.9,19.8 71.3,19.8 71.7,19.8 72.0,19.8 72.4,19.8 72.8,19.8 73.1,19.8 73.5,19.8 73.9,19.8 74.3,19.8 74.6,19.8 75.0,19.9 75.4,19.9 75.7,19.9 76.1,19.9 76.5,19.9 76.8,19.9 77.2,19.9 77.6,19.9 77.9,19.9 78.3,19.9 78.7,19.9 79.1,19.9 79.4,19.9 79.8,19.9 80.2,19.9 80.5,19.9 80.9,19.9 81.3,19.9 81.6,19.9 82.0,19.9 82.4,19.9 82.7,19.9 83.1,19.9 83.5,19.9 83.9,19.9 84.2,19.9 84.6,19.9 85.0,19.9 85.3,19.9 85.7,19.9 86.1,19.9 86.4,19.9 86.8,19.9 87.2,19.9 87.5,19.9 87.9,19.9 88.3,19.9 88.7,19.9 89.0,19.9 89.4,19.9 89.8,19.9 90.1,19.9 90.5,19.9 90.9,19.9 91.2,20.0 91.6,20.0 92.0,20.0 92.3,20.0 92.7,20.0 93.1,20.0 93.5,20.0 93.8,20.0 94.2,20.0 94.6,20.0 94.9,20.0 95.3,20.0 95.7,20.0 96.0,20.0 96.4,20.0 96.8,20.0 97.1,20.0 97.5,20.0 97.9,20.0 98.2,20.0 98.6,20.0 99.0,20.0 99.4,20.0 99.7,20.0 100.1,20.0 100.5,20.0 100.8,20.0 101.2,20.0 101.6,20.0 101.9,20.0 102.3,20.0 102.7,20.0 103.0,20.1 103.4,20.1 103.8,20.1 104.2,20.1 104.5,20.1 104.9,20.1 105.3,20.1 105.6,20.1 106.0,20.1 106.4,20.1 106.7,20.1 107.1,20.1 107.5,20.1 107.8,20.1 108.2,20.1 108.6,20.1 109.0,20.1 109.3,20.1 109.7,20.1 110.1,20.2 110.4,20.2 110.8,20.2 111.2,20.2 111.5,20.2 111.9,20.2 112.3,20.2 112.6,20.2 113.0,20.2 113.4,20.2 113.8,20.2 114.1,20.2 114.5,20.3 114.9,20.3 115.2,20.3 115.6,20.3 116.0,20.3 116.3,20.3 116.7,20.3 117.1,20.3 117.4,20.3 117.8,20.4 118.2,20.4 118.6,20.4 118.9,20.4 119.3,20.4 119.7,20.4 120.0,20.5 120.4,20.5 120.8,20.5 121.1,20.5 121.5,20.5 121.9,20.5 122.2,20.6 122.6,20.6 123.0,20.6 123.4,20.6 123.7,20.7 124.1,20.7 124.5,20.7 124.8,20.7 125.2,20.8 125.6,20.8 125.9,20.8 126.3,20.9 126.7,20.9 127.0,20.9 127.4,21.0 127.8,21.0 128.2,21.0 128.5,21.1 128.9,21.1 129.3,21.2 129.6,21.2 130.0,21.3 130.4,21.3 130.7,21.4 131.1,21.4 131.5,21.5 131.8,21.5 132.2,21.6 132.6,21.7 133.0,21.7 133.3,21.8 133.7,21.9 134.1,21.9 134.4,22.0 134.8,22.1 135.2,22.2 135.5,22.3 135.9,22.4 136.3,22.5 136.6,22.6 137.0,22.7 137.4,22.8 137.8,22.9 138.1,23.0 138.5,23.1 138.9,23.3 139.2,23.4 139.6,23.5 140.0,23.7 140.3,23.8 140.7,24.0 141.1,24.2 141.4,24.3 141.8,24.5 142.2,24.7 142.5,24.9 142.9,25.1 143.3,25.3 143.7,25.5 144.0,25.7 144.4,26.0 144.8,26.2 145.1,26.5 145.5,26.7 145.9,27.0 146.2,27.3 146.6,27.6 147.0,27.9 147.3,28.2 147.7,28.5 148.1,28.9 148.5,29.3 148.8,29.6 149.2,30.0 149.6,30.4 149.9,30.9 150.3,31.3 150.7,31.8 151.0,32.2 151.4,32.7 151.8,33.2 152.1,33.8 152.5,34.3 152.9,34.9 153.3,35.5 153.6,36.1 154.0,36.8 154.4,37.4 154.7,38.1 155.1,38.9 155.5,39.6 155.8,40.4 156.2,41.2 156.6,42.0 156.9,42.9 157.3,43.8 157.7,44.7 158.1,45.6 158.4,46.6 158.8,47.7 159.2,48.7 159.5,49.8 159.9,50.9 160.3,52.1 160.6,53.3 161.0,54.6 161.4,55.9 161.7,57.2 162.1,58.6 162.5,60.0 162.9,61.5 163.2,63.0 163.6,64.6 164.0,66.2 164.3,67.9 164.7,69.6 165.1,71.3 165.4,73.1 165.8,75.0 166.2,76.9 166.5,78.9 166.9,80.9 167.3,83.0 167.7,85.2 168.0,87.3 168.4,89.6 168.8,91.9 169.1,94.3 169.5,96.7 169.9,99.2 170.2,101.8 170.6,104.4 171.0,107.1 171.3,109.8 171.7,112.6 172.1,115.5 172.5,118.4 172.8,121.4 173.2,124.5 173.6,127.6 173.9,130.8 174.3,134.0 174.7,137.3 175.0,140.7 175.4,144.2 175.8,147.7 176.1,151.3 176.5,154.9 176.9,158.6 177.3,162.4 177.6,166.2 178.0,170.1 178.4,174.0 178.7,178.1 179.1,182.2 179.5,186.3 179.8,190.5 180.2,194.8 180.6,199.1 180.9,203.5 181.3,203.6 181.7,203.6 182.1,203.6 182.4,203.6 182.8,203.6 183.2,203.6 183.5,203.6 183.9,203.6 184.3,203.6 184.6,203.6 185.0,203.6 185.4,203.6 185.7,203.6 186.1,203.6 186.5,203.7 186.8,203.7 187.2,203.7 187.6,203.7 188.0,203.7 188.3,203.7 188.7,203.7 189.1,203.7 189.4,203.7 189.8,203.7 190.2,203.7 190.5,203.7 190.9,203.7 191.3,203.7 191.6,203.7 192.0,203.7 192.4,203.7 192.8,203.7 193.1,203.7 193.5,203.7 193.9,203.7 194.2,203.8 194.6,203.8 195.0,203.8 195.3,203.8 195.7,203.9 196.1,203.9 196.4,203.9 196.8,204.0 197.2,204.0 197.6,204.1 197.9,204.2 198.3,204.2 198.7,204.3 199.0,204.4 199.4,204.6 199.8,204.7 200.1,204.9 200.5,205.0 200.9,205.2 201.2,205.5 201.6,205.7 202.0,206.0 202.4,206.4 202.7,206.8 203.1,207.2 203.5,207.7 203.8,208.2 204.2,208.8 204.6,209.5 204.9,210.3 205.3,211.1 205.7,212.0 206.0,213.0 206.4,214.0 206.8,215.2 207.2,216.5 207.5,217.8 207.9,219.2 208.3,220.8 208.6,222.4 209.0,224.1 209.4,225.9 209.7,227.8 210.1,229.8 210.5,231.9 210.8,234.1 211.2,236.0 211.6,236.0 212.0,236.0 212.3,236.0 212.7,236.0 213.1,236.0 213.4,236.0 213.8,236.0 214.2,236.0 214.5,236.0 214.9,236.0 215.3,236.0 215.6,236.0 216.0,236.0 216.4,236.0 216.8,236.0 217.1,236.0 217.5,236.0 217.9,236.0 218.2,236.0 218.6,236.0 219.0,236.0 219.3,236.0 219.7,236.0 220.1,236.0 220.4,236.0 220.8,236.0 221.2,236.0 221.6,236.0 221.9,236.0 222.3,236.0 222.7,236.0 223.0,236.0 223.4,236.0 223.8,236.0 224.1,236.0 224.5,236.0 224.9,236.0 225.2,236.0 225.6,236.0 226.0,236.0 226.3,236.0 226.7,236.0 227.1,236.0 227.5,236.0 227.8,236.0 228.2,236.0 228.6,236.0 228.9,236.0 229.3,236.0 229.7,236.0 230.0,236.0 230.4,236.0 230.8,236.0 231.1,236.0 231.5,236.0 231.9,236.0 232.3,236.0 232.6,236.0 233.0,236.0 233.4,236.0 233.7,236.0 234.1,236.0 234.5,236.0 234.8,236.0 235.2,236.0 235.6,236.0 235.9,236.0 236.3,236.0 236.7,236.0 237.1,236.0 237.4,236.0 237.8,236.0 238.2,236.0 238.5,236.0 238.9,236.0 239.3,236.0 239.6,236.0 240.0,236.0 240.4,236.0 240.7,236.0 241.1,236.0 241.5,236.0 241.9,236.0 242.2,236.0 242.6,236.0 243.0,236.0 243.3,236.0 243.7,236.0 244.1,236.0 244.4,236.0 244.8,236.0 245.2,236.0 245.5,236.0 245.9,236.0 246.3,236.0 246.7,236.0 247.0,236.0 247.4,236.0 247.8,236.0 248.1,236.0 248.5,236.0" fill="none" stroke="#ff00ff" stroke-width="1.0" stroke-dasharray="4.5 2.4"/><g stroke="#ff00ff" stroke-width="1.1" fill="none"><path d="M28.5 19.6h2.2M29.6 18.5v2.2M28.8 18.8l1.5 1.5M28.8 20.4l1.5 -1.5"/><path d="M33.5 19.6h2.2M34.6 18.5v2.2M33.8 18.9l1.5 1.5M33.8 20.4l1.5 -1.5"/><path d="M38.5 19.7h2.2M39.6 18.6v2.2M38.9 18.9l1.5 1.5M38.9 20.4l1.5 -1.5"/><path d="M43.5 19.7h2.2M44.6 18.6v2.2M43.9 18.9l1.5 1.5M43.9 20.5l1.5 -1.5"/><path d="M48.6 19.7h2.2M49.7 18.6v2.2M48.9 18.9l1.5 1.5M48.9 20.5l1.5 -1.5"/><path d="M53.6 19.7h2.2M54.7 18.6v2.2M53.9 19.0l1.5 1.5M53.9 20.5l1.5 -1.5"/><path d="M58.6 19.8h2.2M59.7 18.7v2.2M58.9 19.0l1.5 1.5M58.9 20.5l1.5 -1.5"/><path d="M63.6 19.8h2.2M64.7 18.7v2.2M64.0 19.0l1.5 1.5M64.0 20.6l1.5 -1.5"/><path d="M68.6 19.8h2.2M69.7 18.7v2.2M69.0 19.1l1.5 1.5M69.0 20.6l1.5 -1.5"/><path d="M73.7 19.9h2.2M74.8 18.8v2.2M74.0 19.1l1.5 1.5M74.0 20.6l1.5 -1.5"/><path d="M78.7 19.9h2.2M79.8 18.8v2.2M79.0 19.1l1.5 1.5M79.0 20.6l1.5 -1.5"/><path d="M83.7 19.9h2.2M84.8 18.8v2.2M84.0 19.1l1.5 1.5M84.0 20.7l1.5 -1.5"/><path d="M88.7 19.9h2.2M89.8 18.8v2.2M89.1 19.2l1.5 1.5M89.1 20.7l1.5 -1.5"/><path d="M93.8 20.0h2.2M94.9 18.9v2.2M94.1 19.2l1.5 1.5M94.1 20.7l1.5 -1.5"/><path d="M98.8 20.0h2.2M99.9 18.9v2.2M99.1 19.2l1.5 1.5M99.1 20.8l1.5 -1.5"/><path d="M103.8 20.1h2.2M104.9 19.0v2.2M104.1 19.3l1.5 1.5M104.1 20.8l1.5 -1.5"/><path d="M108.8 20.2h2.2M109.9 19.1v2.2M109.1 19.4l1.5 1.5M109.1 20.9l1.5 -1.5"/><path d="M113.8 20.3h2.2M114.9 19.2v2.2M114.2 19.5l1.5 1.5M114.2 21.0l1.5 -1.5"/><path d="M118.9 20.4h2.2M120.0 19.3v2.2M119.2 19.7l1.5 1.5M119.2 21.2l1.5 -1.5"/><path d="M123.9 20.8h2.2M125.0 19.7v2.2M124.2 20.0l1.5 1.5M124.2 21.5l1.5 -1.5"/><path d="M128.9 21.3h2.2M130.0 20.2v2.2M129.2 20.5l1.5 1.5M129.2 22.0l1.5 -1.5"/><path d="M133.9 22.2h2.2M135.0 21.1v2.2M134.2 21.4l1.5 1.5M134.2 22.9l1.5 -1.5"/><path d="M138.9 23.7h2.2M140.0 22.6v2.2M139.3 22.9l1.5 1.5M139.3 24.5l1.5 -1.5"/><path d="M144.0 26.4h2.2M145.1 25.3v2.2M144.3 25.6l1.5 1.5M144.3 27.2l1.5 -1.5"/><path d="M149.0 31.0h2.2M150.1 29.9v2.2M149.3 30.3l1.5 1.5M149.3 31.8l1.5 -1.5"/><path d="M154.0 38.9h2.2M155.1 37.8v2.2M154.3 38.1l1.5 1.5M154.3 39.6l1.5 -1.5"/><path d="M159.0 51.6h2.2M160.1 50.5v2.2M159.4 50.9l1.5 1.5M159.4 52.4l1.5 -1.5"/><path d="M164.0 71.7h2.2M165.1 70.6v2.2M164.4 70.9l1.5 1.5M164.4 72.5l1.5 -1.5"/><path d="M169.1 101.3h2.2M170.2 100.2v2.2M169.4 100.5l1.5 1.5M169.4 102.0l1.5 -1.5"/><path d="M174.1 142.1h2.2M175.2 141.0v2.2M174.4 141.3l1.5 1.5M174.4 142.9l1.5 -1.5"/><path d="M179.1 194.8h2.2M180.2 193.7v2.2M179.4 194.0l1.5 1.5M179.4 195.6l1.5 -1.5"/><path d="M184.1 203.6h2.2M185.2 202.5v2.2M184.5 202.9l1.5 1.5M184.5 204.4l1.5 -1.5"/><path d="M189.1 203.7h2.2M190.2 202.6v2.2M189.5 202.9l1.5 1.5M189.5 204.4l1.5 -1.5"/><path d="M194.2 203.8h2.2M195.3 202.7v2.2M194.5 203.1l1.5 1.5M194.5 204.6l1.5 -1.5"/><path d="M199.2 204.9h2.2M200.3 203.8v2.2M199.5 204.1l1.5 1.5M199.5 205.7l1.5 -1.5"/><path d="M204.2 211.1h2.2M205.3 210.0v2.2M204.5 210.3l1.5 1.5M204.5 211.9l1.5 -1.5"/><path d="M209.2 231.1h2.2M210.3 230.0v2.2M209.6 230.3l1.5 1.5M209.6 231.8l1.5 -1.5"/><path d="M214.2 236.0h2.2M215.3 234.9v2.2M214.6 235.2l1.5 1.5M214.6 236.8l1.5 -1.5"/><path d="M219.3 236.0h2.2M220.4 234.9v2.2M219.6 235.2l1.5 1.5M219.6 236.8l1.5 -1.5"/><path d="M224.3 236.0h2.2M225.4 234.9v2.2M224.6 235.2l1.5 1.5M224.6 236.8l1.5 -1.5"/><path d="M229.3 236.0h2.2M230.4 234.9v2.2M229.6 235.2l1.5 1.5M229.6 236.8l1.5 -1.5"/><path d="M234.3 236.0h2.2M235.4 234.9v2.2M234.7 235.2l1.5 1.5M234.7 236.8l1.5 -1.5"/><path d="M239.4 236.0h2.2M240.5 234.9v2.2M239.7 235.2l1.5 1.5M239.7 236.8l1.5 -1.5"/><path d="M244.4 236.0h2.2M245.5 234.9v2.2M244.7 235.2l1.5 1.5M244.7 236.8l1.5 -1.5"/></g><polyline points="27.0,236.0 27.4,236.0 27.7,236.0 28.1,236.0 28.5,236.0 28.8,236.0 29.2,236.0 29.6,236.0 30.0,236.0 30.3,236.0 30.7,236.0 31.1,236.0 31.4,236.0 31.8,236.0 32.2,236.0 32.5,236.0 32.9,236.0 33.3,236.0 33.6,236.0 34.0,236.0 34.4,236.0 34.8,236.0 35.1,236.0 35.5,236.0 35.9,236.0 36.2,236.0 36.6,236.0 37.0,236.0 37.3,236.0 37.7,236.0 38.1,236.0 38.4,236.0 38.8,236.0 39.2,236.0 39.6,236.0 39.9,236.0 40.3,236.0 40.7,236.0 41.0,236.0 41.4,236.0 41.8,236.0 42.1,236.0 42.5,236.0 42.9,236.0 43.2,236.0 43.6,236.0 44.0,236.0 44.4,236.0 44.7,236.0 45.1,236.0 45.5,236.0 45.8,236.0 46.2,236.0 46.6,236.0 46.9,236.0 47.3,236.0 47.7,236.0 48.0,236.0 48.4,236.0 48.8,236.0 49.1,236.0 49.5,236.0 49.9,236.0 50.3,236.0 50.6,236.0 51.0,236.0 51.4,236.0 51.7,236.0 52.1,236.0 52.5,236.0 52.8,236.0 53.2,236.0 53.6,236.0 53.9,236.0 54.3,236.0 54.7,236.0 55.1,236.0 55.4,236.0 55.8,236.0 56.2,236.0 56.5,236.0 56.9,236.0 57.3,236.0 57.6,236.0 58.0,236.0 58.4,236.0 58.7,236.0 59.1,236.0 59.5,236.0 59.9,236.0 60.2,236.0 60.6,236.0 61.0,236.0 61.3,236.0 61.7,236.0 62.1,236.0 62.4,236.0 62.8,236.0 63.2,236.0 63.5,236.0 63.9,236.0 64.3,236.0 64.7,236.0 65.0,236.0 65.4,236.0 65.8,236.0 66.1,236.0 66.5,236.0 66.9,236.0 67.2,236.0 67.6,236.0 68.0,236.0 68.3,236.0 68.7,236.0 69.1,236.0 69.5,236.0 69.8,236.0 70.2,236.0 70.6,236.0 70.9,236.0 71.3,236.0 71.7,236.0 72.0,236.0 72.4,236.0 72.8,236.0 73.1,236.0 73.5,236.0 73.9,236.0 74.3,236.0 74.6,236.0 75.0,236.0 75.4,236.0 75.7,236.0 76.1,236.0 76.5,236.0 76.8,236.0 77.2,236.0 77.6,236.0 77.9,236.0 78.3,236.0 78.7,236.0 79.1,236.0 79.4,236.0 79.8,236.0 80.2,236.0 80.5,236.0 80.9,236.0 81.3,236.0 81.6,236.0 82.0,236.0 82.4,236.0 82.7,236.0 83.1,236.0 83.5,236.0 83.9,236.0 84.2,236.0 84.6,236.0 85.0,236.0 85.3,236.0 85.7,236.0 86.1,236.0 86.4,236.0 86.8,236.0 87.2,236.0 87.5,236.0 87.9,236.0 88.3,236.0 88.7,236.0 89.0,236.0 89.4,236.0 89.8,236.0 90.1,236.0 90.5,236.0 90.9,236.0 91.2,236.0 91.6,236.0 92.0,236.0 92.3,236.0 92.7,236.0 93.1,236.0 93.5,236.0 93.8,236.0 94.2,236.0 94.6,236.0 94.9,236.0 95.3,236.0 95.7,236.0 96.0,236.0 96.4,236.0 96.8,236.0 97.1,236.0 97.5,236.0 97.9,236.0 98.2,236.0 98.6,236.0 99.0,236.0 99.4,236.0 99.7,236.0 100.1,236.0 100.5,236.0 100.8,236.0 101.2,236.0 101.6,236.0 101.9,236.0 102.3,236.0 102.7,236.0 103.0,236.0 103.4,236.0 103.8,236.0 104.2,236.0 104.5,236.0 104.9,236.0 105.3,236.0 105.6,236.0 106.0,236.0 106.4,236.0 106.7,236.0 107.1,236.0 107.5,236.0 107.8,236.0 108.2,236.0 108.6,236.0 109.0,236.0 109.3,236.0 109.7,236.0 110.1,236.0 110.4,236.0 110.8,236.0 111.2,236.0 111.5,236.0 111.9,236.0 112.3,236.0 112.6,236.0 113.0,236.0 113.4,236.0 113.8,236.0 114.1,236.0 114.5,236.0 114.9,236.0 115.2,236.0 115.6,236.0 116.0,236.0 116.3,236.0 116.7,236.0 117.1,236.0 117.4,236.0 117.8,236.0 118.2,236.0 118.6,236.0 118.9,236.0 119.3,236.0 119.7,236.0 120.0,236.0 120.4,236.0 120.8,236.0 121.1,236.0 121.5,236.0 121.9,236.0 122.2,236.0 122.6,236.0 123.0,236.0 123.4,236.0 123.7,236.0 124.1,236.0 124.5,236.0 124.8,236.0 125.2,236.0 125.6,236.0 125.9,236.0 126.3,236.0 126.7,236.0 127.0,236.0 127.4,236.0 127.8,236.0 128.2,236.0 128.5,236.0 128.9,236.0 129.3,236.0 129.6,236.0 130.0,236.0 130.4,236.0 130.7,236.0 131.1,236.0 131.5,236.0 131.8,236.0 132.2,236.0 132.6,236.0 133.0,236.0 133.3,236.0 133.7,236.0 134.1,236.0 134.4,236.0 134.8,236.0 135.2,236.0 135.5,236.0 135.9,236.0 136.3,236.0 136.6,236.0 137.0,236.0 137.4,236.0 137.8,236.0 138.1,236.0 138.5,236.0 138.9,236.0 139.2,236.0 139.6,236.0 140.0,236.0 140.3,236.0 140.7,236.0 141.1,236.0 141.4,236.0 141.8,236.0 142.2,236.0 142.5,236.0 142.9,236.0 143.3,236.0 143.7,236.0 144.0,236.0 144.4,236.0 144.8,236.0 145.1,236.0 145.5,236.0 145.9,236.0 146.2,236.0 146.6,236.0 147.0,236.0 147.3,236.0 147.7,236.0 148.1,236.0 148.5,236.0 148.8,236.0 149.2,236.0 149.6,236.0 149.9,236.0 150.3,236.0 150.7,236.0 151.0,236.0 151.4,236.0 151.8,236.0 152.1,236.0 152.5,236.0 152.9,236.0 153.3,236.0 153.6,236.0 154.0,236.0 154.4,236.0 154.7,236.0 155.1,236.0 155.5,236.0 155.8,236.0 156.2,236.0 156.6,236.0 156.9,236.0 157.3,236.0 157.7,236.0 158.1,236.0 158.4,236.0 158.8,236.0 159.2,236.0 159.5,236.0 159.9,236.0 160.3,236.0 160.6,236.0 161.0,236.0 161.4,236.0 161.7,236.0 162.1,236.0 162.5,236.0 162.9,236.0 163.2,236.0 163.6,236.0 164.0,236.0 164.3,236.0 164.7,236.0 165.1,236.0 165.4,236.0 165.8,236.0 166.2,236.0 166.5,236.0 166.9,236.0 167.3,236.0 167.7,236.0 168.0,236.0 168.4,236.0 168.8,236.0 169.1,236.0 169.5,236.0 169.9,236.0 170.2,236.0 170.6,236.0 171.0,236.0 171.3,236.0 171.7,236.0 172.1,236.0 172.5,236.0 172.8,236.0 173.2,236.0 173.6,236.0 173.9,236.0 174.3,236.0 174.7,236.0 175.0,236.0 175.4,236.0 175.8,236.0 176.1,236.0 176.5,236.0 176.9,236.0 177.3,236.0 177.6,236.0 178.0,236.0 178.4,236.0 178.7,236.0 179.1,236.0 179.5,236.0 179.8,236.0 180.2,236.0 180.6,236.0 180.9,236.0 181.3,236.0 181.7,236.0 182.1,236.0 182.4,236.0 182.8,236.0 183.2,236.0 183.5,236.0 183.9,236.0 184.3,236.0 184.6,236.0 185.0,236.0 185.4,236.0 185.7,236.0 186.1,236.0 186.5,236.0 186.8,236.0 187.2,236.0 187.6,236.0 188.0,236.0 188.3,236.0 188.7,236.0 189.1,236.0 189.4,236.0 189.8,236.0 190.2,236.0 190.5,236.0 190.9,236.0 191.3,236.0 191.6,236.0 192.0,236.0 192.4,236.0 192.8,236.0 193.1,236.0 193.5,236.0 193.9,236.0 194.2,236.0 194.6,236.0 195.0,236.0 195.3,236.0 195.7,236.0 196.1,236.0 196.4,236.0 196.8,236.0 197.2,236.0 197.6,236.0 197.9,236.0 198.3,236.0 198.7,236.0 199.0,236.0 199.4,236.0 199.8,236.0 200.1,236.0 200.5,236.0 200.9,236.0 201.2,236.0 201.6,236.0 202.0,236.0 202.4,236.0 202.7,236.0 203.1,236.0 203.5,236.0 203.8,236.0 204.2,236.0 204.6,236.0 204.9,236.0 205.3,236.0 205.7,236.0 206.0,236.0 206.4,236.0 206.8,236.0 207.2,236.0 207.5,236.0 207.9,236.0 208.3,236.0 208.6,236.0 209.0,236.0 209.4,236.0 209.7,236.0 210.1,236.0 210.5,236.0 210.8,236.0 211.2,236.0 211.6,236.0 212.0,236.0 212.3,236.0 212.7,236.0 213.1,236.0 213.4,236.0 213.8,236.0 214.2,236.0 214.5,236.0 214.9,236.0 215.3,236.0 215.6,236.0 216.0,236.0 216.4,236.0 216.8,236.0 217.1,236.0 217.5,236.0 217.9,236.0 218.2,236.0 218.6,236.0 219.0,236.0 219.3,236.0 219.7,236.0 220.1,236.0 220.4,236.0 220.8,236.0 221.2,236.0 221.6,236.0 221.9,236.0 222.3,236.0 222.7,236.0 223.0,236.0 223.4,236.0 223.8,236.0 224.1,236.0 224.5,236.0 224.9,236.0 225.2,236.0 225.6,236.0 226.0,236.0 226.3,236.0 226.7,236.0 227.1,236.0 227.5,236.0 227.8,236.0 228.2,236.0 228.6,236.0 228.9,236.0 229.3,236.0 229.7,236.0 230.0,236.0 230.4,236.0 230.8,236.0 231.1,236.0 231.5,236.0 231.9,236.0 232.3,236.0 232.6,236.0 233.0,236.0 233.4,236.0 233.7,236.0 234.1,236.0 234.5,236.0 234.8,236.0 235.2,236.0 235.6,236.0 235.9,236.0 236.3,236.0 236.7,236.0 237.1,236.0 237.4,236.0 237.8,236.0 238.2,236.0 238.5,236.0 238.9,236.0 239.3,236.0 239.6,236.0 240.0,236.0 240.4,236.0 240.7,236.0 241.1,236.0 241.5,236.0 241.9,236.0 242.2,236.0 242.6,236.0 243.0,236.0 243.3,236.0 243.7,236.0 244.1,236.0 244.4,236.0 244.8,236.0 245.2,236.0 245.5,236.0 245.9,236.0 246.3,236.0 246.7,236.0 247.0,236.0 247.4,236.0 247.8,236.0 248.1,236.0 248.5,236.0" fill="none" stroke="#00ffff" stroke-width="1.2" stroke-dasharray="4.5 2.4"/><g stroke="#00ffff" stroke-width="1.1" fill="none"><path d="M29.2 236.0h3.4M30.9 234.3v3.4" stroke-width="1.3"/><path d="M34.2 236.0h3.4M35.9 234.3v3.4" stroke-width="1.3"/><path d="M39.2 236.0h3.4M40.9 234.3v3.4" stroke-width="1.3"/><path d="M44.2 236.0h3.4M45.9 234.3v3.4" stroke-width="1.3"/><path d="M49.3 236.0h3.4M51.0 234.3v3.4" stroke-width="1.3"/><path d="M54.3 236.0h3.4M56.0 234.3v3.4" stroke-width="1.3"/><path d="M59.3 236.0h3.4M61.0 234.3v3.4" stroke-width="1.3"/><path d="M64.3 236.0h3.4M66.0 234.3v3.4" stroke-width="1.3"/><path d="M69.3 236.0h3.4M71.0 234.3v3.4" stroke-width="1.3"/><path d="M74.4 236.0h3.4M76.1 234.3v3.4" stroke-width="1.3"/><path d="M79.4 236.0h3.4M81.1 234.3v3.4" stroke-width="1.3"/><path d="M84.4 236.0h3.4M86.1 234.3v3.4" stroke-width="1.3"/><path d="M89.4 236.0h3.4M91.1 234.3v3.4" stroke-width="1.3"/><path d="M94.4 236.0h3.4M96.1 234.3v3.4" stroke-width="1.3"/><path d="M99.5 236.0h3.4M101.2 234.3v3.4" stroke-width="1.3"/><path d="M104.5 236.0h3.4M106.2 234.3v3.4" stroke-width="1.3"/><path d="M109.5 236.0h3.4M111.2 234.3v3.4" stroke-width="1.3"/><path d="M114.5 236.0h3.4M116.2 234.3v3.4" stroke-width="1.3"/><path d="M119.5 236.0h3.4M121.2 234.3v3.4" stroke-width="1.3"/><path d="M124.6 236.0h3.4M126.3 234.3v3.4" stroke-width="1.3"/><path d="M129.6 236.0h3.4M131.3 234.3v3.4" stroke-width="1.3"/><path d="M134.6 236.0h3.4M136.3 234.3v3.4" stroke-width="1.3"/><path d="M139.6 236.0h3.4M141.3 234.3v3.4" stroke-width="1.3"/><path d="M144.7 236.0h3.4M146.4 234.3v3.4" stroke-width="1.3"/><path d="M149.7 236.0h3.4M151.4 234.3v3.4" stroke-width="1.3"/><path d="M154.7 236.0h3.4M156.4 234.3v3.4" stroke-width="1.3"/><path d="M159.7 236.0h3.4M161.4 234.3v3.4" stroke-width="1.3"/><path d="M164.7 236.0h3.4M166.4 234.3v3.4" stroke-width="1.3"/><path d="M169.8 236.0h3.4M171.5 234.3v3.4" stroke-width="1.3"/><path d="M174.8 236.0h3.4M176.5 234.3v3.4" stroke-width="1.3"/><path d="M179.8 236.0h3.4M181.5 234.3v3.4" stroke-width="1.3"/><path d="M184.8 236.0h3.4M186.5 234.3v3.4" stroke-width="1.3"/><path d="M189.8 236.0h3.4M191.5 234.3v3.4" stroke-width="1.3"/><path d="M194.9 236.0h3.4M196.6 234.3v3.4" stroke-width="1.3"/><path d="M199.9 236.0h3.4M201.6 234.3v3.4" stroke-width="1.3"/><path d="M204.9 236.0h3.4M206.6 234.3v3.4" stroke-width="1.3"/><path d="M209.9 236.0h3.4M211.6 234.3v3.4" stroke-width="1.3"/><path d="M214.9 236.0h3.4M216.6 234.3v3.4" stroke-width="1.3"/><path d="M220.0 236.0h3.4M221.7 234.3v3.4" stroke-width="1.3"/><path d="M225.0 236.0h3.4M226.7 234.3v3.4" stroke-width="1.3"/><path d="M230.0 236.0h3.4M231.7 234.3v3.4" stroke-width="1.3"/><path d="M235.0 236.0h3.4M236.7 234.3v3.4" stroke-width="1.3"/><path d="M240.0 236.0h3.4M241.7 234.3v3.4" stroke-width="1.3"/><path d="M245.1 236.0h3.4M246.8 234.3v3.4" stroke-width="1.3"/></g></g><rect x="316.5" y="12.0" width="221.2" height="224.0" fill="none" stroke="#444444" stroke-width="0.9"/><path d="M316.50 236.0v-2.4M316.50 12.0v2.4M353.37 236.0v-2.4M353.37 12.0v2.4M390.23 236.0v-2.4M390.23 12.0v2.4M427.10 236.0v-2.4M427.10 12.0v2.4M463.97 236.0v-2.4M463.97 12.0v2.4M500.83 236.0v-2.4M500.83 12.0v2.4M537.70 236.0v-2.4M537.70 12.0v2.4M316.5 236.00h2.4M537.7 236.00h-2.4M316.5 204.00h2.4M537.7 204.00h-2.4M316.5 172.00h2.4M537.7 172.00h-2.4M316.5 140.00h2.4M537.7 140.00h-2.4M316.5 108.00h2.4M537.7 108.00h-2.4M316.5 76.00h2.4M537.7 76.00h-2.4M316.5 44.00h2.4M537.7 44.00h-2.4M316.5 12.00h2.4M537.7 12.00h-2.4" stroke="#444444" stroke-width="1" fill="none"/><text x="316.50" y="248.6" text-anchor="middle" class="tk">0</text><text x="353.37" y="248.6" text-anchor="middle" class="tk">100</text><text x="390.23" y="248.6" text-anchor="middle" class="tk">200</text><text x="427.10" y="248.6" text-anchor="middle" class="tk">300</text><text x="463.97" y="248.6" text-anchor="middle" class="tk">400</text><text x="500.83" y="248.6" text-anchor="middle" class="tk">500</text><text x="537.70" y="248.6" text-anchor="middle" class="tk">600</text><text x="312.30" y="239.50" text-anchor="end" class="tk">0</text><text x="312.30" y="207.50" text-anchor="end" class="tk">500</text><text x="312.30" y="175.50" text-anchor="end" class="tk">1000</text><text x="312.30" y="143.50" text-anchor="end" class="tk">1500</text><text x="312.30" y="111.50" text-anchor="end" class="tk">2000</text><text x="312.30" y="79.50" text-anchor="end" class="tk">2500</text><text x="312.30" y="47.50" text-anchor="end" class="tk">3000</text><text x="312.30" y="15.50" text-anchor="end" class="tk">3500</text><text x="427.10" y="258.8" text-anchor="middle" class="al">Voltage(V)</text><text transform="translate(289.20,124.00) rotate(-90)" text-anchor="middle" class="yl">Power(W)</text><g clip-path="url(#clipR)"><polyline points="316.5,236.0 316.9,235.4 317.2,234.9 317.6,234.3 318.0,233.8 318.3,233.2 318.7,232.7 319.1,232.1 319.4,231.5 319.8,231.0 320.2,230.4 320.6,229.9 320.9,229.3 321.3,228.8 321.7,228.2 322.0,227.7 322.4,227.1 322.8,226.5 323.1,226.0 323.5,225.4 323.9,224.9 324.2,224.3 324.6,223.8 325.0,223.2 325.3,222.6 325.7,222.1 326.1,221.5 326.5,221.0 326.8,220.4 327.2,219.9 327.6,219.3 327.9,218.8 328.3,218.2 328.7,217.6 329.0,217.1 329.4,216.5 329.8,216.0 330.1,215.4 330.5,214.9 330.9,214.3 331.2,213.7 331.6,213.2 332.0,212.6 332.4,212.1 332.7,211.5 333.1,211.0 333.5,210.4 333.8,209.9 334.2,209.3 334.6,208.7 334.9,208.2 335.3,207.6 335.7,207.1 336.0,206.5 336.4,206.0 336.8,205.4 337.1,204.9 337.5,204.3 337.9,203.7 338.3,203.2 338.6,202.6 339.0,202.1 339.4,201.5 339.7,201.0 340.1,200.4 340.5,199.9 340.8,199.3 341.2,198.7 341.6,198.2 341.9,197.6 342.3,197.1 342.7,196.5 343.0,196.0 343.4,195.4 343.8,194.8 344.1,194.3 344.5,193.7 344.9,193.2 345.3,192.6 345.6,192.1 346.0,191.5 346.4,191.0 346.7,190.4 347.1,189.8 347.5,189.3 347.8,188.7 348.2,188.2 348.6,187.6 348.9,187.1 349.3,186.5 349.7,186.0 350.0,185.4 350.4,184.8 350.8,184.3 351.2,183.7 351.5,183.2 351.9,182.6 352.3,182.1 352.6,181.5 353.0,181.0 353.4,180.4 353.7,179.8 354.1,179.3 354.5,178.7 354.8,178.2 355.2,177.6 355.6,177.1 355.9,176.5 356.3,176.0 356.7,175.4 357.1,174.8 357.4,174.3 357.8,173.7 358.2,173.2 358.5,172.6 358.9,172.1 359.3,171.5 359.6,171.0 360.0,170.4 360.4,169.9 360.7,169.3 361.1,168.7 361.5,168.2 361.8,167.6 362.2,167.1 362.6,166.5 363.0,166.0 363.3,165.4 363.7,164.9 364.1,164.3 364.4,163.7 364.8,163.2 365.2,162.6 365.5,162.1 365.9,161.5 366.3,161.0 366.6,160.4 367.0,159.9 367.4,159.3 367.7,158.7 368.1,158.2 368.5,157.6 368.9,157.1 369.2,156.5 369.6,156.0 370.0,155.4 370.3,154.9 370.7,154.3 371.1,153.8 371.4,153.2 371.8,152.6 372.2,152.1 372.5,151.5 372.9,151.0 373.3,150.4 373.6,149.9 374.0,149.3 374.4,148.8 374.7,148.2 375.1,147.6 375.5,147.1 375.9,146.5 376.2,146.0 376.6,145.4 377.0,144.9 377.3,144.3 377.7,143.8 378.1,143.2 378.4,142.7 378.8,142.1 379.2,141.5 379.5,141.0 379.9,140.4 380.3,139.9 380.6,139.3 381.0,138.8 381.4,138.2 381.8,137.7 382.1,137.1 382.5,136.6 382.9,136.0 383.2,135.4 383.6,134.9 384.0,134.3 384.3,133.8 384.7,133.2 385.1,132.7 385.4,132.1 385.8,131.6 386.2,131.0 386.5,130.5 386.9,129.9 387.3,129.3 387.7,128.8 388.0,128.2 388.4,127.7 388.8,127.1 389.1,126.6 389.5,126.0 389.9,125.5 390.2,124.9 390.6,124.4 391.0,123.8 391.3,123.3 391.7,122.7 392.1,122.1 392.4,121.6 392.8,121.0 393.2,120.5 393.6,119.9 393.9,119.4 394.3,118.8 394.7,118.3 395.0,117.7 395.4,117.2 395.8,116.6 396.1,116.0 396.5,115.5 396.9,114.9 397.2,114.4 397.6,113.8 398.0,113.3 398.3,112.7 398.7,112.2 399.1,111.6 399.5,111.1 399.8,110.5 400.2,110.0 400.6,109.4 400.9,108.8 401.3,108.3 401.7,107.7 402.0,107.2 402.4,106.6 402.8,106.1 403.1,105.5 403.5,105.0 403.9,104.4 404.2,103.9 404.6,103.3 405.0,102.8 405.3,102.2 405.7,101.7 406.1,101.1 406.5,100.6 406.8,100.0 407.2,99.4 407.6,98.9 407.9,98.3 408.3,97.8 408.7,97.2 409.0,96.7 409.4,96.1 409.8,95.6 410.1,95.0 410.5,94.5 410.9,93.9 411.2,93.4 411.6,92.8 412.0,92.3 412.4,91.7 412.7,91.2 413.1,90.6 413.5,90.1 413.8,89.5 414.2,89.0 414.6,88.4 414.9,87.9 415.3,87.3 415.7,86.7 416.0,86.2 416.4,85.6 416.8,85.1 417.1,84.5 417.5,84.0 417.9,83.4 418.3,82.9 418.6,82.3 419.0,81.8 419.4,81.2 419.7,80.7 420.1,80.1 420.5,79.6 420.8,79.1 421.2,78.5 421.6,78.0 421.9,77.4 422.3,76.9 422.7,76.3 423.0,75.8 423.4,75.2 423.8,74.7 424.2,74.1 424.5,73.6 424.9,73.0 425.3,72.5 425.6,71.9 426.0,71.4 426.4,70.8 426.7,70.3 427.1,69.8 427.5,69.2 427.8,68.7 428.2,68.1 428.6,67.6 428.9,67.0 429.3,66.5 429.7,66.0 430.0,65.4 430.4,64.9 430.8,64.3 431.2,63.8 431.5,63.3 431.9,62.7 432.3,62.2 432.6,61.7 433.0,61.1 433.4,60.6 433.7,60.0 434.1,59.5 434.5,59.0 434.8,58.4 435.2,57.9 435.6,57.4 435.9,56.9 436.3,56.3 436.7,55.8 437.1,55.3 437.4,54.7 437.8,54.2 438.2,53.7 438.5,53.2 438.9,52.7 439.3,52.1 439.6,51.6 440.0,51.1 440.4,50.6 440.7,50.1 441.1,49.6 441.5,49.0 441.8,48.5 442.2,48.0 442.6,47.5 443.0,47.0 443.3,46.5 443.7,46.0 444.1,45.5 444.4,45.0 444.8,44.5 445.2,44.0 445.5,43.5 445.9,43.1 446.3,42.6 446.6,42.1 447.0,41.6 447.4,41.1 447.7,40.7 448.1,40.2 448.5,39.7 448.9,39.3 449.2,38.8 449.6,38.3 450.0,37.9 450.3,37.4 450.7,37.0 451.1,36.6 451.4,36.1 451.8,35.7 452.2,35.3 452.5,34.8 452.9,34.4 453.3,34.0 453.6,33.6 454.0,33.2 454.4,32.8 454.8,32.4 455.1,32.0 455.5,31.6 455.9,31.3 456.2,30.9 456.6,30.5 457.0,30.2 457.3,29.9 457.7,29.5 458.1,29.2 458.4,28.9 458.8,28.6 459.2,28.3 459.5,28.0 459.9,27.7 460.3,27.4 460.6,27.2 461.0,26.9 461.4,26.7 461.8,26.4 462.1,26.2 462.5,26.0 462.9,25.8 463.2,25.6 463.6,25.5 464.0,25.3 464.3,25.2 464.7,25.1 465.1,25.0 465.4,24.9 465.8,24.8 466.2,24.7 466.5,24.7 466.9,24.7 467.3,24.7 467.7,24.7 468.0,24.7 468.4,24.8 468.8,24.9 469.1,25.0 469.5,25.1 469.9,25.2 470.2,25.4 470.6,25.6 471.0,25.8 471.3,26.1 471.7,26.3 472.1,26.6 472.4,26.9 472.8,27.3 473.2,27.7 473.6,28.1 473.9,28.5 474.3,29.0 474.7,29.5 475.0,30.1 475.4,30.6 475.8,31.3 476.1,31.9 476.5,32.6 476.9,33.3 477.2,34.1 477.6,34.9 478.0,35.7 478.3,36.6 478.7,37.5 479.1,38.5 479.5,39.5 479.8,40.6 480.2,41.7 480.6,42.8 480.9,44.0 481.3,45.3 481.7,46.6 482.0,47.9 482.4,49.3 482.8,50.8 483.1,52.3 483.5,53.8 483.9,55.4 484.2,57.1 484.6,58.8 485.0,60.6 485.3,62.4 485.7,64.3 486.1,66.3 486.5,68.3 486.8,70.4 487.2,72.6 487.6,74.8 487.9,77.0 488.3,79.4 488.7,81.8 489.0,84.2 489.4,86.8 489.8,89.3 490.1,92.0 490.5,94.7 490.9,97.5 491.2,100.4 491.6,103.4 492.0,106.4 492.4,109.4 492.7,112.6 493.1,115.8 493.5,119.1 493.8,122.5 494.2,125.9 494.6,129.4 494.9,133.0 495.3,136.7 495.7,140.4 496.0,144.2 496.4,148.1 496.8,152.0 497.1,156.1 497.5,160.2 497.9,164.3 498.3,168.6 498.6,172.9 499.0,177.3 499.4,181.8 499.7,186.3 500.1,191.0 500.5,195.7 500.8,200.4 501.2,205.3 501.6,210.2 501.9,215.2 502.3,220.3 502.7,225.5 503.0,230.7 503.4,236.0 503.8,236.0 504.2,236.0 504.5,236.0 504.9,236.0 505.3,236.0 505.6,236.0 506.0,236.0 506.4,236.0 506.7,236.0 507.1,236.0 507.5,236.0 507.8,236.0 508.2,236.0 508.6,236.0 508.9,236.0 509.3,236.0 509.7,236.0 510.1,236.0 510.4,236.0 510.8,236.0 511.2,236.0 511.5,236.0 511.9,236.0 512.3,236.0 512.6,236.0 513.0,236.0 513.4,236.0 513.7,236.0 514.1,236.0 514.5,236.0 514.8,236.0 515.2,236.0 515.6,236.0 515.9,236.0 516.3,236.0 516.7,236.0 517.1,236.0 517.4,236.0 517.8,236.0 518.2,236.0 518.5,236.0 518.9,236.0 519.3,236.0 519.6,236.0 520.0,236.0 520.4,236.0 520.7,236.0 521.1,236.0 521.5,236.0 521.8,236.0 522.2,236.0 522.6,236.0 523.0,236.0 523.3,236.0 523.7,236.0 524.1,236.0 524.4,236.0 524.8,236.0 525.2,236.0 525.5,236.0 525.9,236.0 526.3,236.0 526.6,236.0 527.0,236.0 527.4,236.0 527.7,236.0 528.1,236.0 528.5,236.0 528.9,236.0 529.2,236.0 529.6,236.0 530.0,236.0 530.3,236.0 530.7,236.0 531.1,236.0 531.4,236.0 531.8,236.0 532.2,236.0 532.5,236.0 532.9,236.0 533.3,236.0 533.6,236.0 534.0,236.0 534.4,236.0 534.8,236.0 535.1,236.0 535.5,236.0 535.9,236.0 536.2,236.0 536.6,236.0 537.0,236.0 537.3,236.0 537.7,236.0" fill="none" stroke="#000000" stroke-width="1.0" stroke-dasharray="4.5 2.4"/><polyline points="316.5,236.0 316.9,235.4 317.2,234.9 317.6,234.3 318.0,233.8 318.3,233.2 318.7,232.7 319.1,232.1 319.4,231.5 319.8,231.0 320.2,230.4 320.6,229.9 320.9,229.3 321.3,228.8 321.7,228.2 322.0,227.7 322.4,227.1 322.8,226.5 323.1,226.0 323.5,225.4 323.9,224.9 324.2,224.3 324.6,223.8 325.0,223.2 325.3,222.6 325.7,222.1 326.1,221.5 326.5,221.0 326.8,220.4 327.2,219.9 327.6,219.3 327.9,218.8 328.3,218.2 328.7,217.6 329.0,217.1 329.4,216.5 329.8,216.0 330.1,215.4 330.5,214.9 330.9,214.3 331.2,213.7 331.6,213.2 332.0,212.6 332.4,212.1 332.7,211.5 333.1,211.0 333.5,210.4 333.8,209.9 334.2,209.3 334.6,208.7 334.9,208.2 335.3,207.6 335.7,207.1 336.0,206.5 336.4,206.0 336.8,205.4 337.1,204.9 337.5,204.3 337.9,203.7 338.3,203.2 338.6,202.6 339.0,202.1 339.4,201.5 339.7,201.0 340.1,200.4 340.5,199.9 340.8,199.3 341.2,198.7 341.6,198.2 341.9,197.6 342.3,197.1 342.7,196.5 343.0,196.0 343.4,195.4 343.8,194.8 344.1,194.3 344.5,193.7 344.9,193.2 345.3,192.6 345.6,192.1 346.0,191.5 346.4,191.0 346.7,190.4 347.1,189.8 347.5,189.3 347.8,188.7 348.2,188.2 348.6,187.6 348.9,187.1 349.3,186.5 349.7,186.0 350.0,185.4 350.4,184.8 350.8,184.3 351.2,183.7 351.5,183.2 351.9,182.6 352.3,182.1 352.6,181.5 353.0,181.0 353.4,180.4 353.7,179.8 354.1,179.3 354.5,178.7 354.8,178.2 355.2,177.6 355.6,177.1 355.9,176.5 356.3,176.0 356.7,175.4 357.1,174.8 357.4,174.3 357.8,173.7 358.2,173.2 358.5,172.6 358.9,172.1 359.3,171.5 359.6,171.0 360.0,170.4 360.4,169.9 360.7,169.3 361.1,168.7 361.5,168.2 361.8,167.6 362.2,167.1 362.6,166.5 363.0,166.0 363.3,165.4 363.7,164.9 364.1,164.3 364.4,163.7 364.8,163.2 365.2,162.6 365.5,162.1 365.9,161.5 366.3,161.0 366.6,160.4 367.0,159.9 367.4,159.3 367.7,158.7 368.1,158.2 368.5,157.6 368.9,157.1 369.2,156.5 369.6,156.0 370.0,155.4 370.3,154.9 370.7,154.3 371.1,153.8 371.4,153.2 371.8,152.6 372.2,152.1 372.5,151.5 372.9,151.0 373.3,150.4 373.6,149.9 374.0,149.3 374.4,148.8 374.7,148.2 375.1,147.7 375.5,147.1 375.9,146.5 376.2,146.0 376.6,145.4 377.0,144.9 377.3,144.3 377.7,143.8 378.1,143.2 378.4,142.7 378.8,142.1 379.2,141.5 379.5,141.0 379.9,140.4 380.3,139.9 380.6,139.3 381.0,138.8 381.4,138.2 381.8,137.7 382.1,137.1 382.5,136.6 382.9,136.0 383.2,135.4 383.6,134.9 384.0,134.3 384.3,133.8 384.7,133.2 385.1,132.7 385.4,132.1 385.8,131.6 386.2,131.0 386.5,130.5 386.9,129.9 387.3,129.4 387.7,128.8 388.0,128.2 388.4,127.7 388.8,127.1 389.1,126.6 389.5,126.0 389.9,125.5 390.2,124.9 390.6,124.4 391.0,123.8 391.3,123.3 391.7,122.7 392.1,122.1 392.4,121.6 392.8,121.0 393.2,120.5 393.6,119.9 393.9,119.4 394.3,118.8 394.7,118.3 395.0,117.7 395.4,117.2 395.8,116.6 396.1,116.1 396.5,115.5 396.9,114.9 397.2,114.4 397.6,113.8 398.0,113.3 398.3,112.7 398.7,112.2 399.1,111.6 399.5,111.1 399.8,110.5 400.2,110.0 400.6,109.4 400.9,108.9 401.3,108.3 401.7,107.8 402.0,107.2 402.4,106.7 402.8,106.1 403.1,105.5 403.5,105.0 403.9,104.4 404.2,103.9 404.6,103.3 405.0,102.8 405.3,102.2 405.7,101.7 406.1,101.1 406.5,100.6 406.8,100.0 407.2,99.5 407.6,98.9 407.9,98.4 408.3,97.8 408.7,97.3 409.0,96.7 409.4,96.2 409.8,95.6 410.1,95.1 410.5,94.5 410.9,94.0 411.2,93.4 411.6,92.9 412.0,92.3 412.4,91.8 412.7,91.2 413.1,90.7 413.5,90.1 413.8,89.6 414.2,89.0 414.6,88.5 414.9,87.9 415.3,87.4 415.7,86.8 416.0,86.3 416.4,85.7 416.8,85.2 417.1,84.6 417.5,84.1 417.9,83.6 418.3,83.0 418.6,82.5 419.0,81.9 419.4,81.4 419.7,80.8 420.1,80.3 420.5,79.8 420.8,79.2 421.2,78.7 421.6,78.1 421.9,77.6 422.3,77.1 422.7,76.5 423.0,76.0 423.4,75.4 423.8,74.9 424.2,74.4 424.5,73.8 424.9,73.3 425.3,72.8 425.6,72.2 426.0,71.7 426.4,71.2 426.7,70.6 427.1,70.1 427.5,69.6 427.8,69.0 428.2,68.5 428.6,68.0 428.9,67.5 429.3,66.9 429.7,66.4 430.0,65.9 430.4,65.4 430.8,64.9 431.2,64.4 431.5,63.8 431.9,63.3 432.3,62.8 432.6,62.3 433.0,61.8 433.4,61.3 433.7,60.8 434.1,60.3 434.5,59.8 434.8,59.3 435.2,58.8 435.6,58.3 435.9,57.8 436.3,57.3 436.7,56.9 437.1,56.4 437.4,55.9 437.8,55.4 438.2,55.0 438.5,54.5 438.9,54.0 439.3,53.6 439.6,53.1 440.0,52.7 440.4,52.2 440.7,51.8 441.1,51.3 441.5,50.9 441.8,50.5 442.2,50.1 442.6,49.6 443.0,49.2 443.3,48.8 443.7,48.4 444.1,48.0 444.4,47.6 444.8,47.3 445.2,46.9 445.5,46.5 445.9,46.2 446.3,45.8 446.6,45.5 447.0,45.1 447.4,44.8 447.7,44.5 448.1,44.2 448.5,43.9 448.9,43.6 449.2,43.3 449.6,43.1 450.0,42.8 450.3,42.6 450.7,42.3 451.1,42.1 451.4,41.9 451.8,41.7 452.2,41.6 452.5,41.4 452.9,41.3 453.3,41.1 453.6,41.0 454.0,40.9 454.4,40.8 454.8,40.8 455.1,40.7 455.5,40.7 455.9,40.7 456.2,40.7 456.6,40.8 457.0,40.8 457.3,40.9 457.7,41.0 458.1,41.2 458.4,41.3 458.8,41.5 459.2,41.7 459.5,42.0 459.9,42.3 460.3,42.6 460.6,42.9 461.0,43.2 461.4,43.6 461.8,44.1 462.1,44.5 462.5,45.0 462.9,45.6 463.2,46.1 463.6,46.7 464.0,47.4 464.3,48.1 464.7,48.8 465.1,49.6 465.4,50.4 465.8,51.2 466.2,52.1 466.5,53.1 466.9,54.1 467.3,55.1 467.7,56.2 468.0,57.4 468.4,58.5 468.8,59.8 469.1,61.1 469.5,62.5 469.9,63.9 470.2,65.3 470.6,66.9 471.0,68.4 471.3,70.1 471.7,71.8 472.1,73.6 472.4,75.4 472.8,77.3 473.2,79.3 473.6,81.3 473.9,83.4 474.3,85.5 474.7,87.8 475.0,90.1 475.4,92.4 475.8,94.9 476.1,97.4 476.5,99.9 476.9,102.6 477.2,105.3 477.6,108.1 478.0,111.0 478.3,113.9 478.7,117.0 479.1,120.1 479.5,123.2 479.8,126.5 480.2,129.8 480.6,133.3 480.9,136.7 481.3,140.3 481.7,144.0 482.0,147.7 482.4,151.5 482.8,155.4 483.1,159.4 483.5,163.4 483.9,167.5 484.2,171.8 484.6,176.0 485.0,180.4 485.3,184.9 485.7,189.4 486.1,194.0 486.5,198.7 486.8,203.5 487.2,208.4 487.6,213.3 487.9,218.4 488.3,223.5 488.7,228.7 489.0,233.9 489.4,236.0 489.8,236.0 490.1,236.0 490.5,236.0 490.9,236.0 491.2,236.0 491.6,236.0 492.0,236.0 492.4,236.0 492.7,236.0 493.1,236.0 493.5,236.0 493.8,236.0 494.2,236.0 494.6,236.0 494.9,236.0 495.3,236.0 495.7,236.0 496.0,236.0 496.4,236.0 496.8,236.0 497.1,236.0 497.5,236.0 497.9,236.0 498.3,236.0 498.6,236.0 499.0,236.0 499.4,236.0 499.7,236.0 500.1,236.0 500.5,236.0 500.8,236.0 501.2,236.0 501.6,236.0 501.9,236.0 502.3,236.0 502.7,236.0 503.0,236.0 503.4,236.0 503.8,236.0 504.2,236.0 504.5,236.0 504.9,236.0 505.3,236.0 505.6,236.0 506.0,236.0 506.4,236.0 506.7,236.0 507.1,236.0 507.5,236.0 507.8,236.0 508.2,236.0 508.6,236.0 508.9,236.0 509.3,236.0 509.7,236.0 510.1,236.0 510.4,236.0 510.8,236.0 511.2,236.0 511.5,236.0 511.9,236.0 512.3,236.0 512.6,236.0 513.0,236.0 513.4,236.0 513.7,236.0 514.1,236.0 514.5,236.0 514.8,236.0 515.2,236.0 515.6,236.0 515.9,236.0 516.3,236.0 516.7,236.0 517.1,236.0 517.4,236.0 517.8,236.0 518.2,236.0 518.5,236.0 518.9,236.0 519.3,236.0 519.6,236.0 520.0,236.0 520.4,236.0 520.7,236.0 521.1,236.0 521.5,236.0 521.8,236.0 522.2,236.0 522.6,236.0 523.0,236.0 523.3,236.0 523.7,236.0 524.1,236.0 524.4,236.0 524.8,236.0 525.2,236.0 525.5,236.0 525.9,236.0 526.3,236.0 526.6,236.0 527.0,236.0 527.4,236.0 527.7,236.0 528.1,236.0 528.5,236.0 528.9,236.0 529.2,236.0 529.6,236.0 530.0,236.0 530.3,236.0 530.7,236.0 531.1,236.0 531.4,236.0 531.8,236.0 532.2,236.0 532.5,236.0 532.9,236.0 533.3,236.0 533.6,236.0 534.0,236.0 534.4,236.0 534.8,236.0 535.1,236.0 535.5,236.0 535.9,236.0 536.2,236.0 536.6,236.0 537.0,236.0 537.3,236.0 537.7,236.0" fill="none" stroke="#ff0000" stroke-width="1.0" stroke-dasharray="4.5 2.4"/><g fill="#ff0000"><circle cx="317.8" cy="234.0" r="1.25"/><circle cx="322.8" cy="226.4" r="1.25"/><circle cx="327.9" cy="218.9" r="1.25"/><circle cx="332.9" cy="211.3" r="1.25"/><circle cx="337.9" cy="203.7" r="1.25"/><circle cx="342.9" cy="196.2" r="1.25"/><circle cx="347.9" cy="188.6" r="1.25"/><circle cx="352.9" cy="181.1" r="1.25"/><circle cx="357.9" cy="173.5" r="1.25"/><circle cx="363.0" cy="166.0" r="1.25"/><circle cx="368.0" cy="158.4" r="1.25"/><circle cx="373.0" cy="150.9" r="1.25"/><circle cx="378.0" cy="143.3" r="1.25"/><circle cx="383.0" cy="135.8" r="1.25"/><circle cx="388.0" cy="128.2" r="1.25"/><circle cx="393.0" cy="120.7" r="1.25"/><circle cx="398.0" cy="113.2" r="1.25"/><circle cx="403.1" cy="105.7" r="1.25"/><circle cx="408.1" cy="98.2" r="1.25"/><circle cx="413.1" cy="90.7" r="1.25"/><circle cx="418.1" cy="83.2" r="1.25"/><circle cx="423.1" cy="75.9" r="1.25"/><circle cx="428.1" cy="68.6" r="1.25"/><circle cx="433.1" cy="61.6" r="1.25"/><circle cx="438.2" cy="55.0" r="1.25"/><circle cx="443.2" cy="49.0" r="1.25"/><circle cx="448.2" cy="44.1" r="1.25"/><circle cx="453.2" cy="41.2" r="1.25"/><circle cx="458.2" cy="41.2" r="1.25"/><circle cx="463.2" cy="46.1" r="1.25"/><circle cx="468.2" cy="58.1" r="1.25"/><circle cx="473.3" cy="79.7" r="1.25"/><circle cx="478.3" cy="113.3" r="1.25"/><circle cx="483.3" cy="161.0" r="1.25"/><circle cx="488.3" cy="223.5" r="1.25"/><circle cx="493.3" cy="236.0" r="1.25"/><circle cx="498.3" cy="236.0" r="1.25"/><circle cx="503.3" cy="236.0" r="1.25"/><circle cx="508.4" cy="236.0" r="1.25"/><circle cx="513.4" cy="236.0" r="1.25"/><circle cx="518.4" cy="236.0" r="1.25"/><circle cx="523.4" cy="236.0" r="1.25"/><circle cx="528.4" cy="236.0" r="1.25"/><circle cx="533.4" cy="236.0" r="1.25"/></g><polyline points="316.5,236.0 316.9,235.4 317.2,234.9 317.6,234.3 318.0,233.8 318.3,233.2 318.7,232.7 319.1,232.1 319.4,231.5 319.8,231.0 320.2,230.4 320.6,229.9 320.9,229.3 321.3,228.8 321.7,228.2 322.0,227.7 322.4,227.1 322.8,226.5 323.1,226.0 323.5,225.4 323.9,224.9 324.2,224.3 324.6,223.8 325.0,223.2 325.3,222.6 325.7,222.1 326.1,221.5 326.5,221.0 326.8,220.4 327.2,219.9 327.6,219.3 327.9,218.8 328.3,218.2 328.7,217.6 329.0,217.1 329.4,216.5 329.8,216.0 330.1,215.4 330.5,214.9 330.9,214.3 331.2,213.7 331.6,213.2 332.0,212.6 332.4,212.1 332.7,211.5 333.1,211.0 333.5,210.4 333.8,209.9 334.2,209.3 334.6,208.7 334.9,208.2 335.3,207.6 335.7,207.1 336.0,206.5 336.4,206.0 336.8,205.4 337.1,204.9 337.5,204.3 337.9,203.7 338.3,203.2 338.6,202.6 339.0,202.1 339.4,201.5 339.7,201.0 340.1,200.4 340.5,199.9 340.8,199.3 341.2,198.7 341.6,198.2 341.9,197.6 342.3,197.1 342.7,196.5 343.0,196.0 343.4,195.4 343.8,194.8 344.1,194.3 344.5,193.7 344.9,193.2 345.3,192.6 345.6,192.1 346.0,191.5 346.4,191.0 346.7,190.4 347.1,189.8 347.5,189.3 347.8,188.7 348.2,188.2 348.6,187.6 348.9,187.1 349.3,186.5 349.7,186.0 350.0,185.4 350.4,184.8 350.8,184.3 351.2,183.7 351.5,183.2 351.9,182.6 352.3,182.1 352.6,181.5 353.0,181.0 353.4,180.4 353.7,179.8 354.1,179.3 354.5,178.7 354.8,178.2 355.2,177.6 355.6,177.1 355.9,176.5 356.3,176.0 356.7,175.4 357.1,174.8 357.4,174.3 357.8,173.7 358.2,173.2 358.5,172.6 358.9,172.1 359.3,171.5 359.6,171.0 360.0,170.4 360.4,169.9 360.7,169.3 361.1,168.7 361.5,168.2 361.8,167.6 362.2,167.1 362.6,166.5 363.0,166.0 363.3,165.4 363.7,164.9 364.1,164.3 364.4,163.7 364.8,163.2 365.2,162.6 365.5,162.1 365.9,161.5 366.3,161.0 366.6,160.4 367.0,159.9 367.4,159.3 367.7,158.7 368.1,158.2 368.5,157.6 368.9,157.1 369.2,156.5 369.6,156.0 370.0,155.4 370.3,154.9 370.7,154.3 371.1,153.8 371.4,153.2 371.8,152.6 372.2,152.1 372.5,151.5 372.9,151.0 373.3,150.4 373.6,149.9 374.0,149.3 374.4,148.8 374.7,148.2 375.1,147.7 375.5,147.1 375.9,146.5 376.2,146.0 376.6,145.4 377.0,144.9 377.3,144.3 377.7,143.8 378.1,143.2 378.4,142.7 378.8,142.1 379.2,141.6 379.5,141.0 379.9,140.4 380.3,139.9 380.6,139.3 381.0,138.8 381.4,138.2 381.8,137.7 382.1,137.1 382.5,136.6 382.9,136.0 383.2,135.5 383.6,134.9 384.0,134.3 384.3,133.8 384.7,133.2 385.1,132.7 385.4,132.1 385.8,131.6 386.2,131.0 386.5,130.5 386.9,129.9 387.3,129.4 387.7,128.8 388.0,128.2 388.4,127.7 388.8,127.1 389.1,126.6 389.5,126.0 389.9,125.5 390.2,124.9 390.6,124.4 391.0,123.8 391.3,123.3 391.7,122.7 392.1,122.2 392.4,121.6 392.8,121.1 393.2,120.5 393.6,119.9 393.9,119.4 394.3,118.8 394.7,118.3 395.0,117.7 395.4,117.2 395.8,116.6 396.1,116.1 396.5,115.5 396.9,115.0 397.2,114.4 397.6,113.9 398.0,113.3 398.3,112.8 398.7,112.2 399.1,111.7 399.5,111.1 399.8,110.6 400.2,110.0 400.6,109.5 400.9,108.9 401.3,108.3 401.7,107.8 402.0,107.2 402.4,106.7 402.8,106.1 403.1,105.6 403.5,105.0 403.9,104.5 404.2,103.9 404.6,103.4 405.0,102.8 405.3,102.3 405.7,101.7 406.1,101.2 406.5,100.7 406.8,100.1 407.2,99.6 407.6,99.0 407.9,98.5 408.3,97.9 408.7,97.4 409.0,96.8 409.4,96.3 409.8,95.7 410.1,95.2 410.5,94.6 410.9,94.1 411.2,93.6 411.6,93.0 412.0,92.5 412.4,91.9 412.7,91.4 413.1,90.9 413.5,90.3 413.8,89.8 414.2,89.2 414.6,88.7 414.9,88.2 415.3,87.6 415.7,87.1 416.0,86.6 416.4,86.0 416.8,85.5 417.1,85.0 417.5,84.4 417.9,83.9 418.3,83.4 418.6,82.8 419.0,82.3 419.4,81.8 419.7,81.3 420.1,80.7 420.5,80.2 420.8,79.7 421.2,79.2 421.6,78.7 421.9,78.2 422.3,77.7 422.7,77.1 423.0,76.6 423.4,76.1 423.8,75.6 424.2,75.1 424.5,74.6 424.9,74.1 425.3,73.6 425.6,73.1 426.0,72.7 426.4,72.2 426.7,71.7 427.1,71.2 427.5,70.7 427.8,70.3 428.2,69.8 428.6,69.3 428.9,68.9 429.3,68.4 429.7,68.0 430.0,67.5 430.4,67.1 430.8,66.6 431.2,66.2 431.5,65.8 431.9,65.4 432.3,65.0 432.6,64.5 433.0,64.1 433.4,63.8 433.7,63.4 434.1,63.0 434.5,62.6 434.8,62.3 435.2,61.9 435.6,61.6 435.9,61.2 436.3,60.9 436.7,60.6 437.1,60.3 437.4,60.0 437.8,59.7 438.2,59.4 438.5,59.1 438.9,58.9 439.3,58.7 439.6,58.4 440.0,58.2 440.4,58.0 440.7,57.9 441.1,57.7 441.5,57.6 441.8,57.4 442.2,57.3 442.6,57.2 443.0,57.2 443.3,57.1 443.7,57.1 444.1,57.1 444.4,57.1 444.8,57.1 445.2,57.2 445.5,57.3 445.9,57.4 446.3,57.6 446.6,57.7 447.0,57.9 447.4,58.2 447.7,58.4 448.1,58.7 448.5,59.0 448.9,59.4 449.2,59.8 449.6,60.2 450.0,60.7 450.3,61.2 450.7,61.7 451.1,62.3 451.4,63.0 451.8,63.6 452.2,64.3 452.5,65.1 452.9,65.9 453.3,66.8 453.6,67.7 454.0,68.6 454.4,69.6 454.8,70.7 455.1,71.8 455.5,73.0 455.9,74.2 456.2,75.5 456.6,76.9 457.0,78.3 457.3,79.7 457.7,81.3 458.1,82.9 458.4,84.5 458.8,86.3 459.2,88.1 459.5,89.9 459.9,91.9 460.3,93.9 460.6,96.0 461.0,98.1 461.4,100.4 461.8,102.7 462.1,105.1 462.5,107.5 462.9,110.0 463.2,112.7 463.6,115.4 464.0,118.1 464.3,121.0 464.7,123.9 465.1,127.0 465.4,130.1 465.8,133.3 466.2,136.5 466.5,139.9 466.9,143.3 467.3,146.9 467.7,150.5 468.0,154.2 468.4,158.0 468.8,161.9 469.1,165.8 469.5,169.9 469.9,174.0 470.2,178.3 470.6,182.6 471.0,187.0 471.3,191.5 471.7,196.1 472.1,200.8 472.4,205.5 472.8,210.4 473.2,215.3 473.6,220.4 473.9,225.5 474.3,230.7 474.7,236.0 475.0,236.0 475.4,236.0 475.8,236.0 476.1,236.0 476.5,236.0 476.9,236.0 477.2,236.0 477.6,236.0 478.0,236.0 478.3,236.0 478.7,236.0 479.1,236.0 479.5,236.0 479.8,236.0 480.2,236.0 480.6,236.0 480.9,236.0 481.3,236.0 481.7,236.0 482.0,236.0 482.4,236.0 482.8,236.0 483.1,236.0 483.5,236.0 483.9,236.0 484.2,236.0 484.6,236.0 485.0,236.0 485.3,236.0 485.7,236.0 486.1,236.0 486.5,236.0 486.8,236.0 487.2,236.0 487.6,236.0 487.9,236.0 488.3,236.0 488.7,236.0 489.0,236.0 489.4,236.0 489.8,236.0 490.1,236.0 490.5,236.0 490.9,236.0 491.2,236.0 491.6,236.0 492.0,236.0 492.4,236.0 492.7,236.0 493.1,236.0 493.5,236.0 493.8,236.0 494.2,236.0 494.6,236.0 494.9,236.0 495.3,236.0 495.7,236.0 496.0,236.0 496.4,236.0 496.8,236.0 497.1,236.0 497.5,236.0 497.9,236.0 498.3,236.0 498.6,236.0 499.0,236.0 499.4,236.0 499.7,236.0 500.1,236.0 500.5,236.0 500.8,236.0 501.2,236.0 501.6,236.0 501.9,236.0 502.3,236.0 502.7,236.0 503.0,236.0 503.4,236.0 503.8,236.0 504.2,236.0 504.5,236.0 504.9,236.0 505.3,236.0 505.6,236.0 506.0,236.0 506.4,236.0 506.7,236.0 507.1,236.0 507.5,236.0 507.8,236.0 508.2,236.0 508.6,236.0 508.9,236.0 509.3,236.0 509.7,236.0 510.1,236.0 510.4,236.0 510.8,236.0 511.2,236.0 511.5,236.0 511.9,236.0 512.3,236.0 512.6,236.0 513.0,236.0 513.4,236.0 513.7,236.0 514.1,236.0 514.5,236.0 514.8,236.0 515.2,236.0 515.6,236.0 515.9,236.0 516.3,236.0 516.7,236.0 517.1,236.0 517.4,236.0 517.8,236.0 518.2,236.0 518.5,236.0 518.9,236.0 519.3,236.0 519.6,236.0 520.0,236.0 520.4,236.0 520.7,236.0 521.1,236.0 521.5,236.0 521.8,236.0 522.2,236.0 522.6,236.0 523.0,236.0 523.3,236.0 523.7,236.0 524.1,236.0 524.4,236.0 524.8,236.0 525.2,236.0 525.5,236.0 525.9,236.0 526.3,236.0 526.6,236.0 527.0,236.0 527.4,236.0 527.7,236.0 528.1,236.0 528.5,236.0 528.9,236.0 529.2,236.0 529.6,236.0 530.0,236.0 530.3,236.0 530.7,236.0 531.1,236.0 531.4,236.0 531.8,236.0 532.2,236.0 532.5,236.0 532.9,236.0 533.3,236.0 533.6,236.0 534.0,236.0 534.4,236.0 534.8,236.0 535.1,236.0 535.5,236.0 535.9,236.0 536.2,236.0 536.6,236.0 537.0,236.0 537.3,236.0 537.7,236.0" fill="none" stroke="#00ff00" stroke-width="1.0" stroke-dasharray="4.5 2.4"/><g fill="#00ff00"><path d="M320.4 228.4l1.7 3.1h-3.4z"/><path d="M325.4 220.8l1.7 3.1h-3.4z"/><path d="M330.4 213.3l1.7 3.1h-3.4z"/><path d="M335.4 205.7l1.7 3.1h-3.4z"/><path d="M340.5 198.2l1.7 3.1h-3.4z"/><path d="M345.5 190.6l1.7 3.1h-3.4z"/><path d="M350.5 183.0l1.7 3.1h-3.4z"/><path d="M355.5 175.5l1.7 3.1h-3.4z"/><path d="M360.5 167.9l1.7 3.1h-3.4z"/><path d="M365.5 160.4l1.7 3.1h-3.4z"/><path d="M370.5 152.8l1.7 3.1h-3.4z"/><path d="M375.6 145.3l1.7 3.1h-3.4z"/><path d="M380.6 137.7l1.7 3.1h-3.4z"/><path d="M385.6 130.2l1.7 3.1h-3.4z"/><path d="M390.6 122.7l1.7 3.1h-3.4z"/><path d="M395.6 115.1l1.7 3.1h-3.4z"/><path d="M400.6 107.6l1.7 3.1h-3.4z"/><path d="M405.6 100.2l1.7 3.1h-3.4z"/><path d="M410.7 92.7l1.7 3.1h-3.4z"/><path d="M415.7 85.4l1.7 3.1h-3.4z"/><path d="M420.7 78.2l1.7 3.1h-3.4z"/><path d="M425.7 71.3l1.7 3.1h-3.4z"/><path d="M430.7 65.0l1.7 3.1h-3.4z"/><path d="M435.7 59.7l1.7 3.1h-3.4z"/><path d="M440.7 56.2l1.7 3.1h-3.4z"/><path d="M445.8 55.7l1.7 3.1h-3.4z"/><path d="M450.8 60.2l1.7 3.1h-3.4z"/><path d="M455.8 72.3l1.7 3.1h-3.4z"/><path d="M460.8 95.1l1.7 3.1h-3.4z"/><path d="M465.8 131.6l1.7 3.1h-3.4z"/><path d="M470.8 183.5l1.7 3.1h-3.4z"/><path d="M475.8 234.3l1.7 3.1h-3.4z"/><path d="M480.9 234.3l1.7 3.1h-3.4z"/><path d="M485.9 234.3l1.7 3.1h-3.4z"/><path d="M490.9 234.3l1.7 3.1h-3.4z"/><path d="M495.9 234.3l1.7 3.1h-3.4z"/><path d="M500.9 234.3l1.7 3.1h-3.4z"/><path d="M505.9 234.3l1.7 3.1h-3.4z"/><path d="M510.9 234.3l1.7 3.1h-3.4z"/><path d="M515.9 234.3l1.7 3.1h-3.4z"/><path d="M521.0 234.3l1.7 3.1h-3.4z"/><path d="M526.0 234.3l1.7 3.1h-3.4z"/><path d="M531.0 234.3l1.7 3.1h-3.4z"/><path d="M536.0 234.3l1.7 3.1h-3.4z"/></g><polyline points="316.5,236.0 316.9,235.4 317.2,234.9 317.6,234.3 318.0,233.8 318.3,233.2 318.7,232.7 319.1,232.1 319.4,231.5 319.8,231.0 320.2,230.4 320.6,229.9 320.9,229.3 321.3,228.8 321.7,228.2 322.0,227.7 322.4,227.1 322.8,226.5 323.1,226.0 323.5,225.4 323.9,224.9 324.2,224.3 324.6,223.8 325.0,223.2 325.3,222.6 325.7,222.1 326.1,221.5 326.5,221.0 326.8,220.4 327.2,219.9 327.6,219.3 327.9,218.8 328.3,218.2 328.7,217.6 329.0,217.1 329.4,216.5 329.8,216.0 330.1,215.4 330.5,214.9 330.9,214.3 331.2,213.7 331.6,213.2 332.0,212.6 332.4,212.1 332.7,211.5 333.1,211.0 333.5,210.4 333.8,209.9 334.2,209.3 334.6,208.7 334.9,208.2 335.3,207.6 335.7,207.1 336.0,206.5 336.4,206.0 336.8,205.4 337.1,204.9 337.5,204.3 337.9,203.7 338.3,203.2 338.6,202.6 339.0,202.1 339.4,201.5 339.7,201.0 340.1,200.4 340.5,199.9 340.8,199.3 341.2,198.7 341.6,198.2 341.9,197.6 342.3,197.1 342.7,196.5 343.0,196.0 343.4,195.4 343.8,194.8 344.1,194.3 344.5,193.7 344.9,193.2 345.3,192.6 345.6,192.1 346.0,191.5 346.4,191.0 346.7,190.4 347.1,189.8 347.5,189.3 347.8,188.7 348.2,188.2 348.6,187.6 348.9,187.1 349.3,186.5 349.7,186.0 350.0,185.4 350.4,184.8 350.8,184.3 351.2,183.7 351.5,183.2 351.9,182.6 352.3,182.1 352.6,181.5 353.0,181.0 353.4,180.4 353.7,179.8 354.1,179.3 354.5,178.7 354.8,178.2 355.2,177.6 355.6,177.1 355.9,176.5 356.3,176.0 356.7,175.4 357.1,174.8 357.4,174.3 357.8,173.7 358.2,173.2 358.5,172.6 358.9,172.1 359.3,171.5 359.6,171.0 360.0,170.4 360.4,169.9 360.7,169.3 361.1,168.7 361.5,168.2 361.8,167.6 362.2,167.1 362.6,166.5 363.0,166.0 363.3,165.4 363.7,164.9 364.1,164.3 364.4,163.7 364.8,163.2 365.2,162.6 365.5,162.1 365.9,161.5 366.3,161.0 366.6,160.4 367.0,159.9 367.4,159.3 367.7,158.7 368.1,158.2 368.5,157.6 368.9,157.1 369.2,156.5 369.6,156.0 370.0,155.4 370.3,154.9 370.7,154.3 371.1,153.8 371.4,153.2 371.8,152.6 372.2,152.1 372.5,151.5 372.9,151.0 373.3,150.4 373.6,149.9 374.0,149.3 374.4,148.8 374.7,148.2 375.1,147.7 375.5,147.1 375.9,146.5 376.2,146.0 376.6,145.4 377.0,144.9 377.3,144.3 377.7,143.8 378.1,143.2 378.4,142.7 378.8,142.1 379.2,141.5 379.5,141.0 379.9,140.4 380.3,139.9 380.6,139.3 381.0,138.8 381.4,138.2 381.8,137.7 382.1,137.1 382.5,136.6 382.9,136.0 383.2,135.4 383.6,134.9 384.0,134.3 384.3,133.8 384.7,133.2 385.1,132.7 385.4,132.1 385.8,131.6 386.2,131.0 386.5,130.5 386.9,129.9 387.3,129.4 387.7,128.8 388.0,128.2 388.4,127.7 388.8,127.1 389.1,126.6 389.5,126.0 389.9,125.5 390.2,124.9 390.6,124.4 391.0,123.8 391.3,123.3 391.7,122.7 392.1,122.1 392.4,121.6 392.8,121.0 393.2,120.5 393.6,119.9 393.9,119.4 394.3,118.8 394.7,118.3 395.0,117.7 395.4,117.2 395.8,116.6 396.1,116.1 396.5,115.5 396.9,115.0 397.2,114.4 397.6,113.8 398.0,113.3 398.3,112.7 398.7,112.2 399.1,111.6 399.5,111.1 399.8,110.5 400.2,110.0 400.6,109.4 400.9,108.9 401.3,108.3 401.7,107.8 402.0,107.2 402.4,106.7 402.8,106.1 403.1,105.6 403.5,105.0 403.9,104.4 404.2,103.9 404.6,103.3 405.0,102.8 405.3,102.2 405.7,101.7 406.1,101.1 406.5,100.6 406.8,100.0 407.2,99.5 407.6,98.9 407.9,98.4 408.3,97.8 408.7,97.3 409.0,96.7 409.4,96.2 409.8,95.6 410.1,95.1 410.5,94.5 410.9,94.0 411.2,93.4 411.6,92.9 412.0,92.3 412.4,91.8 412.7,91.2 413.1,90.7 413.5,90.1 413.8,89.6 414.2,89.0 414.6,88.5 414.9,87.9 415.3,87.4 415.7,86.9 416.0,86.3 416.4,85.8 416.8,85.2 417.1,84.7 417.5,84.1 417.9,83.6 418.3,83.0 418.6,82.5 419.0,81.9 419.4,81.4 419.7,80.9 420.1,80.3 420.5,79.8 420.8,79.2 421.2,78.7 421.6,78.2 421.9,77.6 422.3,77.1 422.7,76.5 423.0,76.0 423.4,75.5 423.8,74.9 424.2,74.4 424.5,73.9 424.9,73.3 425.3,72.8 425.6,72.3 426.0,71.7 426.4,71.2 426.7,70.7 427.1,70.2 427.5,69.6 427.8,69.1 428.2,68.6 428.6,68.1 428.9,67.5 429.3,67.0 429.7,66.5 430.0,66.0 430.4,65.5 430.8,65.0 431.2,64.5 431.5,63.9 431.9,63.4 432.3,62.9 432.6,62.4 433.0,61.9 433.4,61.4 433.7,60.9 434.1,60.4 434.5,59.9 434.8,59.4 435.2,59.0 435.6,58.5 435.9,58.0 436.3,57.5 436.7,57.0 437.1,56.6 437.4,56.1 437.8,55.6 438.2,55.2 438.5,54.7 438.9,54.3 439.3,53.8 439.6,53.4 440.0,52.9 440.4,52.5 440.7,52.1 441.1,51.6 441.5,51.2 441.8,50.8 442.2,50.4 442.6,50.0 443.0,49.6 443.3,49.2 443.7,48.8 444.1,48.4 444.4,48.1 444.8,47.7 445.2,47.3 445.5,47.0 445.9,46.6 446.3,46.3 446.6,46.0 447.0,45.7 447.4,45.4 447.7,45.1 448.1,44.8 448.5,44.5 448.9,44.3 449.2,44.0 449.6,43.8 450.0,43.6 450.3,43.3 450.7,43.1 451.1,43.0 451.4,42.8 451.8,42.6 452.2,42.5 452.5,42.4 452.9,42.3 453.3,42.2 453.6,42.1 454.0,42.1 454.4,42.0 454.8,42.0 455.1,42.0 455.5,42.0 455.9,42.1 456.2,42.2 456.6,42.3 457.0,42.4 457.3,42.5 457.7,42.7 458.1,42.9 458.4,43.1 458.8,43.4 459.2,43.6 459.5,43.9 459.9,44.3 460.3,44.7 460.6,45.1 461.0,45.5 461.4,46.0 461.8,46.5 462.1,47.0 462.5,47.6 462.9,48.2 463.2,48.9 463.6,49.6 464.0,50.3 464.3,51.1 464.7,51.9 465.1,52.8 465.4,53.7 465.8,54.7 466.2,55.7 466.5,56.8 466.9,57.9 467.3,59.0 467.7,60.2 468.0,61.5 468.4,62.8 468.8,64.2 469.1,65.6 469.5,67.1 469.9,68.6 470.2,70.3 470.6,71.9 471.0,73.6 471.3,75.4 471.7,77.3 472.1,79.2 472.4,81.2 472.8,83.2 473.2,85.3 473.6,87.5 473.9,89.7 474.3,92.1 474.7,94.4 475.0,96.9 475.4,99.4 475.8,102.0 476.1,104.7 476.5,107.4 476.9,110.3 477.2,113.2 477.6,116.1 478.0,119.2 478.3,122.3 478.7,125.5 479.1,128.8 479.5,132.1 479.8,135.6 480.2,139.1 480.6,142.7 480.9,146.3 481.3,150.1 481.7,153.9 482.0,157.8 482.4,161.8 482.8,165.9 483.1,170.0 483.5,174.2 483.9,178.5 484.2,182.9 484.6,187.4 485.0,192.0 485.3,196.6 485.7,197.8 486.1,197.7 486.5,197.6 486.8,197.6 487.2,197.5 487.6,197.4 487.9,197.3 488.3,197.2 488.7,197.2 489.0,197.1 489.4,197.0 489.8,196.9 490.1,196.8 490.5,196.8 490.9,196.7 491.2,196.6 491.6,196.6 492.0,196.5 492.4,196.5 492.7,196.5 493.1,196.5 493.5,196.5 493.8,196.6 494.2,196.7 494.6,196.8 494.9,197.1 495.3,197.4 495.7,197.8 496.0,198.4 496.4,199.2 496.8,200.1 497.1,201.2 497.5,202.5 497.9,204.1 498.3,205.8 498.6,207.8 499.0,210.1 499.4,212.5 499.7,215.1 500.1,218.0 500.5,221.0 500.8,224.2 501.2,227.6 501.6,231.1 501.9,234.8 502.3,236.0 502.7,236.0 503.0,236.0 503.4,236.0 503.8,236.0 504.2,236.0 504.5,236.0 504.9,236.0 505.3,236.0 505.6,236.0 506.0,236.0 506.4,236.0 506.7,236.0 507.1,236.0 507.5,236.0 507.8,236.0 508.2,236.0 508.6,236.0 508.9,236.0 509.3,236.0 509.7,236.0 510.1,236.0 510.4,236.0 510.8,236.0 511.2,236.0 511.5,236.0 511.9,236.0 512.3,236.0 512.6,236.0 513.0,236.0 513.4,236.0 513.7,236.0 514.1,236.0 514.5,236.0 514.8,236.0 515.2,236.0 515.6,236.0 515.9,236.0 516.3,236.0 516.7,236.0 517.1,236.0 517.4,236.0 517.8,236.0 518.2,236.0 518.5,236.0 518.9,236.0 519.3,236.0 519.6,236.0 520.0,236.0 520.4,236.0 520.7,236.0 521.1,236.0 521.5,236.0 521.8,236.0 522.2,236.0 522.6,236.0 523.0,236.0 523.3,236.0 523.7,236.0 524.1,236.0 524.4,236.0 524.8,236.0 525.2,236.0 525.5,236.0 525.9,236.0 526.3,236.0 526.6,236.0 527.0,236.0 527.4,236.0 527.7,236.0 528.1,236.0 528.5,236.0 528.9,236.0 529.2,236.0 529.6,236.0 530.0,236.0 530.3,236.0 530.7,236.0 531.1,236.0 531.4,236.0 531.8,236.0 532.2,236.0 532.5,236.0 532.9,236.0 533.3,236.0 533.6,236.0 534.0,236.0 534.4,236.0 534.8,236.0 535.1,236.0 535.5,236.0 535.9,236.0 536.2,236.0 536.6,236.0 537.0,236.0 537.3,236.0 537.7,236.0" fill="none" stroke="#0000ff" stroke-width="1.0" stroke-dasharray="4 1.3 0.7 1.5"/><polyline points="316.5,236.0 316.9,235.4 317.2,234.9 317.6,234.3 318.0,233.8 318.3,233.2 318.7,232.7 319.1,232.1 319.4,231.5 319.8,231.0 320.2,230.4 320.6,229.9 320.9,229.3 321.3,228.8 321.7,228.2 322.0,227.7 322.4,227.1 322.8,226.5 323.1,226.0 323.5,225.4 323.9,224.9 324.2,224.3 324.6,223.8 325.0,223.2 325.3,222.6 325.7,222.1 326.1,221.5 326.5,221.0 326.8,220.4 327.2,219.9 327.6,219.3 327.9,218.8 328.3,218.2 328.7,217.6 329.0,217.1 329.4,216.5 329.8,216.0 330.1,215.4 330.5,214.9 330.9,214.3 331.2,213.7 331.6,213.2 332.0,212.6 332.4,212.1 332.7,211.5 333.1,211.0 333.5,210.4 333.8,209.9 334.2,209.3 334.6,208.7 334.9,208.2 335.3,207.6 335.7,207.1 336.0,206.5 336.4,206.0 336.8,205.4 337.1,204.9 337.5,204.3 337.9,203.7 338.3,203.2 338.6,202.6 339.0,202.1 339.4,201.5 339.7,201.0 340.1,200.4 340.5,199.9 340.8,199.3 341.2,198.7 341.6,198.2 341.9,197.6 342.3,197.1 342.7,196.5 343.0,196.0 343.4,195.4 343.8,194.8 344.1,194.3 344.5,193.7 344.9,193.2 345.3,192.6 345.6,192.1 346.0,191.5 346.4,191.0 346.7,190.4 347.1,189.8 347.5,189.3 347.8,188.7 348.2,188.2 348.6,187.6 348.9,187.1 349.3,186.5 349.7,186.0 350.0,185.4 350.4,184.8 350.8,184.3 351.2,183.7 351.5,183.2 351.9,182.6 352.3,182.1 352.6,181.5 353.0,181.0 353.4,180.4 353.7,179.8 354.1,179.3 354.5,178.7 354.8,178.2 355.2,177.6 355.6,177.1 355.9,176.5 356.3,176.0 356.7,175.4 357.1,174.8 357.4,174.3 357.8,173.7 358.2,173.2 358.5,172.6 358.9,172.1 359.3,171.5 359.6,171.0 360.0,170.4 360.4,169.9 360.7,169.3 361.1,168.7 361.5,168.2 361.8,167.6 362.2,167.1 362.6,166.5 363.0,166.0 363.3,165.4 363.7,164.9 364.1,164.3 364.4,163.7 364.8,163.2 365.2,162.6 365.5,162.1 365.9,161.5 366.3,161.0 366.6,160.4 367.0,159.9 367.4,159.3 367.7,158.7 368.1,158.2 368.5,157.6 368.9,157.1 369.2,156.5 369.6,156.0 370.0,155.4 370.3,154.9 370.7,154.3 371.1,153.8 371.4,153.2 371.8,152.6 372.2,152.1 372.5,151.5 372.9,151.0 373.3,150.4 373.6,149.9 374.0,149.3 374.4,148.8 374.7,148.2 375.1,147.7 375.5,147.1 375.9,146.5 376.2,146.0 376.6,145.4 377.0,144.9 377.3,144.3 377.7,143.8 378.1,143.2 378.4,142.7 378.8,142.1 379.2,141.6 379.5,141.0 379.9,140.4 380.3,139.9 380.6,139.3 381.0,138.8 381.4,138.2 381.8,137.7 382.1,137.1 382.5,136.6 382.9,136.0 383.2,135.5 383.6,134.9 384.0,134.3 384.3,133.8 384.7,133.2 385.1,132.7 385.4,132.1 385.8,131.6 386.2,131.0 386.5,130.5 386.9,129.9 387.3,129.4 387.7,128.8 388.0,128.3 388.4,127.7 388.8,127.1 389.1,126.6 389.5,126.0 389.9,125.5 390.2,124.9 390.6,124.4 391.0,123.8 391.3,123.3 391.7,122.7 392.1,122.2 392.4,121.6 392.8,121.1 393.2,120.5 393.6,120.0 393.9,119.4 394.3,118.8 394.7,118.3 395.0,117.7 395.4,117.2 395.8,116.6 396.1,116.1 396.5,115.5 396.9,115.0 397.2,114.4 397.6,113.9 398.0,113.3 398.3,112.8 398.7,112.2 399.1,111.7 399.5,111.1 399.8,110.6 400.2,110.0 400.6,109.5 400.9,108.9 401.3,108.4 401.7,107.8 402.0,107.3 402.4,106.7 402.8,106.2 403.1,105.6 403.5,105.1 403.9,104.5 404.2,104.0 404.6,103.4 405.0,102.9 405.3,102.3 405.7,101.8 406.1,101.2 406.5,100.7 406.8,100.1 407.2,99.6 407.6,99.0 407.9,98.5 408.3,98.0 408.7,97.4 409.0,96.9 409.4,96.3 409.8,95.8 410.1,95.2 410.5,94.7 410.9,94.2 411.2,93.6 411.6,93.1 412.0,92.5 412.4,92.0 412.7,91.5 413.1,90.9 413.5,90.4 413.8,89.9 414.2,89.3 414.6,88.8 414.9,88.2 415.3,87.7 415.7,87.2 416.0,86.7 416.4,86.1 416.8,85.6 417.1,85.1 417.5,84.5 417.9,84.0 418.3,83.5 418.6,83.0 419.0,82.5 419.4,81.9 419.7,81.4 420.1,80.9 420.5,80.4 420.8,79.9 421.2,79.4 421.6,78.9 421.9,78.4 422.3,77.9 422.7,77.4 423.0,76.9 423.4,76.4 423.8,75.9 424.2,75.4 424.5,74.9 424.9,74.4 425.3,74.0 425.6,73.5 426.0,73.0 426.4,72.5 426.7,72.1 427.1,71.6 427.5,71.1 427.8,70.7 428.2,70.2 428.6,69.8 428.9,69.4 429.3,68.9 429.7,68.5 430.0,68.1 430.4,67.7 430.8,67.3 431.2,66.9 431.5,66.5 431.9,66.1 432.3,65.7 432.6,65.3 433.0,65.0 433.4,64.6 433.7,64.2 434.1,63.9 434.5,63.6 434.8,63.3 435.2,62.9 435.6,62.6 435.9,62.4 436.3,62.1 436.7,61.8 437.1,61.6 437.4,61.3 437.8,61.1 438.2,60.9 438.5,60.7 438.9,60.5 439.3,60.3 439.6,60.2 440.0,60.1 440.4,59.9 440.7,59.9 441.1,59.8 441.5,59.7 441.8,59.7 442.2,59.7 442.6,59.7 443.0,59.7 443.3,59.8 443.7,59.8 444.1,60.0 444.4,60.1 444.8,60.2 445.2,60.4 445.5,60.7 445.9,60.9 446.3,61.2 446.6,61.5 447.0,61.8 447.4,62.2 447.7,62.6 448.1,63.1 448.5,63.6 448.9,64.1 449.2,64.7 449.6,65.3 450.0,66.0 450.3,66.7 450.7,67.4 451.1,68.2 451.4,69.0 451.8,69.9 452.2,70.9 452.5,71.9 452.9,72.9 453.3,74.0 453.6,75.2 454.0,76.4 454.4,77.6 454.8,79.0 455.1,80.3 455.5,81.8 455.9,83.3 456.2,84.9 456.6,86.5 457.0,88.2 457.3,90.0 457.7,91.8 458.1,93.7 458.4,95.7 458.8,97.8 459.2,99.9 459.5,102.1 459.9,104.4 460.3,106.7 460.6,109.1 461.0,111.6 461.4,114.2 461.8,116.9 462.1,119.6 462.5,122.4 462.9,125.3 463.2,128.3 463.6,131.4 464.0,134.5 464.3,137.8 464.7,141.1 465.1,144.5 465.4,148.0 465.8,151.5 466.2,155.2 466.5,158.9 466.9,162.8 467.3,166.7 467.7,170.7 468.0,174.8 468.4,179.0 468.8,183.2 469.1,187.6 469.5,192.0 469.9,196.6 470.2,201.2 470.6,201.2 471.0,201.1 471.3,201.1 471.7,201.0 472.1,200.9 472.4,200.8 472.8,200.7 473.2,200.6 473.6,200.6 473.9,200.5 474.3,200.4 474.7,200.3 475.0,200.2 475.4,200.1 475.8,200.1 476.1,200.0 476.5,199.9 476.9,199.8 477.2,199.7 477.6,199.7 478.0,199.6 478.3,199.5 478.7,199.4 479.1,199.3 479.5,199.3 479.8,199.2 480.2,199.1 480.6,199.0 480.9,198.9 481.3,198.9 481.7,198.8 482.0,198.7 482.4,198.7 482.8,198.6 483.1,198.5 483.5,198.5 483.9,198.4 484.2,198.3 484.6,198.3 485.0,198.2 485.3,198.2 485.7,198.2 486.1,198.1 486.5,198.1 486.8,198.1 487.2,198.1 487.6,198.1 487.9,198.1 488.3,198.2 488.7,198.2 489.0,198.3 489.4,198.4 489.8,198.6 490.1,198.7 490.5,198.9 490.9,199.2 491.2,199.5 491.6,199.8 492.0,200.2 492.4,200.7 492.7,201.2 493.1,201.8 493.5,202.5 493.8,203.2 494.2,204.1 494.6,205.1 494.9,206.1 495.3,207.3 495.7,208.6 496.0,210.0 496.4,211.5 496.8,213.1 497.1,214.9 497.5,216.8 497.9,218.8 498.3,220.9 498.6,223.2 499.0,225.6 499.4,228.1 499.7,230.8 500.1,233.6 500.5,236.0 500.8,236.0 501.2,236.0 501.6,236.0 501.9,236.0 502.3,236.0 502.7,236.0 503.0,236.0 503.4,236.0 503.8,236.0 504.2,236.0 504.5,236.0 504.9,236.0 505.3,236.0 505.6,236.0 506.0,236.0 506.4,236.0 506.7,236.0 507.1,236.0 507.5,236.0 507.8,236.0 508.2,236.0 508.6,236.0 508.9,236.0 509.3,236.0 509.7,236.0 510.1,236.0 510.4,236.0 510.8,236.0 511.2,236.0 511.5,236.0 511.9,236.0 512.3,236.0 512.6,236.0 513.0,236.0 513.4,236.0 513.7,236.0 514.1,236.0 514.5,236.0 514.8,236.0 515.2,236.0 515.6,236.0 515.9,236.0 516.3,236.0 516.7,236.0 517.1,236.0 517.4,236.0 517.8,236.0 518.2,236.0 518.5,236.0 518.9,236.0 519.3,236.0 519.6,236.0 520.0,236.0 520.4,236.0 520.7,236.0 521.1,236.0 521.5,236.0 521.8,236.0 522.2,236.0 522.6,236.0 523.0,236.0 523.3,236.0 523.7,236.0 524.1,236.0 524.4,236.0 524.8,236.0 525.2,236.0 525.5,236.0 525.9,236.0 526.3,236.0 526.6,236.0 527.0,236.0 527.4,236.0 527.7,236.0 528.1,236.0 528.5,236.0 528.9,236.0 529.2,236.0 529.6,236.0 530.0,236.0 530.3,236.0 530.7,236.0 531.1,236.0 531.4,236.0 531.8,236.0 532.2,236.0 532.5,236.0 532.9,236.0 533.3,236.0 533.6,236.0 534.0,236.0 534.4,236.0 534.8,236.0 535.1,236.0 535.5,236.0 535.9,236.0 536.2,236.0 536.6,236.0 537.0,236.0 537.3,236.0 537.7,236.0" fill="none" stroke="#ff00ff" stroke-width="1.0" stroke-dasharray="4.5 2.4"/><g stroke="#ff00ff" stroke-width="1.1" fill="none"><path d="M318.0 232.1h2.2M319.1 231.0v2.2M318.3 231.3l1.5 1.5M318.3 232.9l1.5 -1.5"/><path d="M323.0 224.5h2.2M324.1 223.4v2.2M323.3 223.8l1.5 1.5M323.3 225.3l1.5 -1.5"/><path d="M328.0 217.0h2.2M329.1 215.9v2.2M328.3 216.2l1.5 1.5M328.3 217.7l1.5 -1.5"/><path d="M333.0 209.4h2.2M334.1 208.3v2.2M333.4 208.6l1.5 1.5M333.4 210.2l1.5 -1.5"/><path d="M338.0 201.9h2.2M339.1 200.8v2.2M338.4 201.1l1.5 1.5M338.4 202.6l1.5 -1.5"/><path d="M343.0 194.3h2.2M344.1 193.2v2.2M343.4 193.5l1.5 1.5M343.4 195.1l1.5 -1.5"/><path d="M348.1 186.7h2.2M349.2 185.6v2.2M348.4 186.0l1.5 1.5M348.4 187.5l1.5 -1.5"/><path d="M353.1 179.2h2.2M354.2 178.1v2.2M353.4 178.4l1.5 1.5M353.4 180.0l1.5 -1.5"/><path d="M358.1 171.6h2.2M359.2 170.5v2.2M358.4 170.9l1.5 1.5M358.4 172.4l1.5 -1.5"/><path d="M363.1 164.1h2.2M364.2 163.0v2.2M363.4 163.3l1.5 1.5M363.4 164.8l1.5 -1.5"/><path d="M368.1 156.5h2.2M369.2 155.4v2.2M368.4 155.8l1.5 1.5M368.4 157.3l1.5 -1.5"/><path d="M373.1 149.0h2.2M374.2 147.9v2.2M373.5 148.2l1.5 1.5M373.5 149.8l1.5 -1.5"/><path d="M378.1 141.4h2.2M379.2 140.3v2.2M378.5 140.7l1.5 1.5M378.5 142.2l1.5 -1.5"/><path d="M383.2 133.9h2.2M384.3 132.8v2.2M383.5 133.1l1.5 1.5M383.5 134.7l1.5 -1.5"/><path d="M388.2 126.4h2.2M389.3 125.3v2.2M388.5 125.6l1.5 1.5M388.5 127.1l1.5 -1.5"/><path d="M393.2 118.8h2.2M394.3 117.7v2.2M393.5 118.1l1.5 1.5M393.5 119.6l1.5 -1.5"/><path d="M398.2 111.3h2.2M399.3 110.2v2.2M398.5 110.6l1.5 1.5M398.5 112.1l1.5 -1.5"/><path d="M403.2 103.9h2.2M404.3 102.8v2.2M403.5 103.1l1.5 1.5M403.5 104.6l1.5 -1.5"/><path d="M408.2 96.4h2.2M409.3 95.3v2.2M408.6 95.7l1.5 1.5M408.6 97.2l1.5 -1.5"/><path d="M413.2 89.1h2.2M414.3 88.0v2.2M413.6 88.3l1.5 1.5M413.6 89.9l1.5 -1.5"/><path d="M418.3 81.9h2.2M419.4 80.8v2.2M418.6 81.2l1.5 1.5M418.6 82.7l1.5 -1.5"/><path d="M423.3 75.1h2.2M424.4 74.0v2.2M423.6 74.3l1.5 1.5M423.6 75.9l1.5 -1.5"/><path d="M428.3 68.8h2.2M429.4 67.7v2.2M428.6 68.1l1.5 1.5M428.6 69.6l1.5 -1.5"/><path d="M433.3 63.6h2.2M434.4 62.5v2.2M433.6 62.9l1.5 1.5M433.6 64.4l1.5 -1.5"/><path d="M438.3 60.3h2.2M439.4 59.2v2.2M438.6 59.5l1.5 1.5M438.6 61.0l1.5 -1.5"/><path d="M443.3 60.1h2.2M444.4 59.0v2.2M443.7 59.3l1.5 1.5M443.7 60.9l1.5 -1.5"/><path d="M448.3 65.1h2.2M449.4 64.0v2.2M448.7 64.3l1.5 1.5M448.7 65.8l1.5 -1.5"/><path d="M453.4 77.9h2.2M454.5 76.8v2.2M453.7 77.1l1.5 1.5M453.7 78.7l1.5 -1.5"/><path d="M458.4 101.6h2.2M459.5 100.5v2.2M458.7 100.9l1.5 1.5M458.7 102.4l1.5 -1.5"/><path d="M463.4 139.1h2.2M464.5 138.0v2.2M463.7 138.3l1.5 1.5M463.7 139.8l1.5 -1.5"/><path d="M468.4 192.0h2.2M469.5 190.9v2.2M468.7 191.3l1.5 1.5M468.7 192.8l1.5 -1.5"/><path d="M473.4 200.3h2.2M474.5 199.2v2.2M473.7 199.6l1.5 1.5M473.7 201.1l1.5 -1.5"/><path d="M478.4 199.2h2.2M479.5 198.1v2.2M478.8 198.5l1.5 1.5M478.8 200.0l1.5 -1.5"/><path d="M483.4 198.3h2.2M484.5 197.2v2.2M483.8 197.5l1.5 1.5M483.8 199.1l1.5 -1.5"/><path d="M488.5 198.5h2.2M489.6 197.4v2.2M488.8 197.7l1.5 1.5M488.8 199.3l1.5 -1.5"/><path d="M493.5 205.1h2.2M494.6 204.0v2.2M493.8 204.3l1.5 1.5M493.8 205.8l1.5 -1.5"/><path d="M498.5 229.7h2.2M499.6 228.6v2.2M498.8 228.9l1.5 1.5M498.8 230.5l1.5 -1.5"/><path d="M503.5 236.0h2.2M504.6 234.9v2.2M503.8 235.2l1.5 1.5M503.8 236.8l1.5 -1.5"/><path d="M508.5 236.0h2.2M509.6 234.9v2.2M508.8 235.2l1.5 1.5M508.8 236.8l1.5 -1.5"/><path d="M513.5 236.0h2.2M514.6 234.9v2.2M513.9 235.2l1.5 1.5M513.9 236.8l1.5 -1.5"/><path d="M518.5 236.0h2.2M519.6 234.9v2.2M518.9 235.2l1.5 1.5M518.9 236.8l1.5 -1.5"/><path d="M523.5 236.0h2.2M524.6 234.9v2.2M523.9 235.2l1.5 1.5M523.9 236.8l1.5 -1.5"/><path d="M528.6 236.0h2.2M529.7 234.9v2.2M528.9 235.2l1.5 1.5M528.9 236.8l1.5 -1.5"/><path d="M533.6 236.0h2.2M534.7 234.9v2.2M533.9 235.2l1.5 1.5M533.9 236.8l1.5 -1.5"/></g><polyline points="316.5,236.0 316.9,236.0 317.2,236.0 317.6,236.0 318.0,236.0 318.3,236.0 318.7,236.0 319.1,236.0 319.4,236.0 319.8,236.0 320.2,236.0 320.6,236.0 320.9,236.0 321.3,236.0 321.7,236.0 322.0,236.0 322.4,236.0 322.8,236.0 323.1,236.0 323.5,236.0 323.9,236.0 324.2,236.0 324.6,236.0 325.0,236.0 325.3,236.0 325.7,236.0 326.1,236.0 326.5,236.0 326.8,236.0 327.2,236.0 327.6,236.0 327.9,236.0 328.3,236.0 328.7,236.0 329.0,236.0 329.4,236.0 329.8,236.0 330.1,236.0 330.5,236.0 330.9,236.0 331.2,236.0 331.6,236.0 332.0,236.0 332.4,236.0 332.7,236.0 333.1,236.0 333.5,236.0 333.8,236.0 334.2,236.0 334.6,236.0 334.9,236.0 335.3,236.0 335.7,236.0 336.0,236.0 336.4,236.0 336.8,236.0 337.1,236.0 337.5,236.0 337.9,236.0 338.3,236.0 338.6,236.0 339.0,236.0 339.4,236.0 339.7,236.0 340.1,236.0 340.5,236.0 340.8,236.0 341.2,236.0 341.6,236.0 341.9,236.0 342.3,236.0 342.7,236.0 343.0,236.0 343.4,236.0 343.8,236.0 344.1,236.0 344.5,236.0 344.9,236.0 345.3,236.0 345.6,236.0 346.0,236.0 346.4,236.0 346.7,236.0 347.1,236.0 347.5,236.0 347.8,236.0 348.2,236.0 348.6,236.0 348.9,236.0 349.3,236.0 349.7,236.0 350.0,236.0 350.4,236.0 350.8,236.0 351.2,236.0 351.5,236.0 351.9,236.0 352.3,236.0 352.6,236.0 353.0,236.0 353.4,236.0 353.7,236.0 354.1,236.0 354.5,236.0 354.8,236.0 355.2,236.0 355.6,236.0 355.9,236.0 356.3,236.0 356.7,236.0 357.1,236.0 357.4,236.0 357.8,236.0 358.2,236.0 358.5,236.0 358.9,236.0 359.3,236.0 359.6,236.0 360.0,236.0 360.4,236.0 360.7,236.0 361.1,236.0 361.5,236.0 361.8,236.0 362.2,236.0 362.6,236.0 363.0,236.0 363.3,236.0 363.7,236.0 364.1,236.0 364.4,236.0 364.8,236.0 365.2,236.0 365.5,236.0 365.9,236.0 366.3,236.0 366.6,236.0 367.0,236.0 367.4,236.0 367.7,236.0 368.1,236.0 368.5,236.0 368.9,236.0 369.2,236.0 369.6,236.0 370.0,236.0 370.3,236.0 370.7,236.0 371.1,236.0 371.4,236.0 371.8,236.0 372.2,236.0 372.5,236.0 372.9,236.0 373.3,236.0 373.6,236.0 374.0,236.0 374.4,236.0 374.7,236.0 375.1,236.0 375.5,236.0 375.9,236.0 376.2,236.0 376.6,236.0 377.0,236.0 377.3,236.0 377.7,236.0 378.1,236.0 378.4,236.0 378.8,236.0 379.2,236.0 379.5,236.0 379.9,236.0 380.3,236.0 380.6,236.0 381.0,236.0 381.4,236.0 381.8,236.0 382.1,236.0 382.5,236.0 382.9,236.0 383.2,236.0 383.6,236.0 384.0,236.0 384.3,236.0 384.7,236.0 385.1,236.0 385.4,236.0 385.8,236.0 386.2,236.0 386.5,236.0 386.9,236.0 387.3,236.0 387.7,236.0 388.0,236.0 388.4,236.0 388.8,236.0 389.1,236.0 389.5,236.0 389.9,236.0 390.2,236.0 390.6,236.0 391.0,236.0 391.3,236.0 391.7,236.0 392.1,236.0 392.4,236.0 392.8,236.0 393.2,236.0 393.6,236.0 393.9,236.0 394.3,236.0 394.7,236.0 395.0,236.0 395.4,236.0 395.8,236.0 396.1,236.0 396.5,236.0 396.9,236.0 397.2,236.0 397.6,236.0 398.0,236.0 398.3,236.0 398.7,236.0 399.1,236.0 399.5,236.0 399.8,236.0 400.2,236.0 400.6,236.0 400.9,236.0 401.3,236.0 401.7,236.0 402.0,236.0 402.4,236.0 402.8,236.0 403.1,236.0 403.5,236.0 403.9,236.0 404.2,236.0 404.6,236.0 405.0,236.0 405.3,236.0 405.7,236.0 406.1,236.0 406.5,236.0 406.8,236.0 407.2,236.0 407.6,236.0 407.9,236.0 408.3,236.0 408.7,236.0 409.0,236.0 409.4,236.0 409.8,236.0 410.1,236.0 410.5,236.0 410.9,236.0 411.2,236.0 411.6,236.0 412.0,236.0 412.4,236.0 412.7,236.0 413.1,236.0 413.5,236.0 413.8,236.0 414.2,236.0 414.6,236.0 414.9,236.0 415.3,236.0 415.7,236.0 416.0,236.0 416.4,236.0 416.8,236.0 417.1,236.0 417.5,236.0 417.9,236.0 418.3,236.0 418.6,236.0 419.0,236.0 419.4,236.0 419.7,236.0 420.1,236.0 420.5,236.0 420.8,236.0 421.2,236.0 421.6,236.0 421.9,236.0 422.3,236.0 422.7,236.0 423.0,236.0 423.4,236.0 423.8,236.0 424.2,236.0 424.5,236.0 424.9,236.0 425.3,236.0 425.6,236.0 426.0,236.0 426.4,236.0 426.7,236.0 427.1,236.0 427.5,236.0 427.8,236.0 428.2,236.0 428.6,236.0 428.9,236.0 429.3,236.0 429.7,236.0 430.0,236.0 430.4,236.0 430.8,236.0 431.2,236.0 431.5,236.0 431.9,236.0 432.3,236.0 432.6,236.0 433.0,236.0 433.4,236.0 433.7,236.0 434.1,236.0 434.5,236.0 434.8,236.0 435.2,236.0 435.6,236.0 435.9,236.0 436.3,236.0 436.7,236.0 437.1,236.0 437.4,236.0 437.8,236.0 438.2,236.0 438.5,236.0 438.9,236.0 439.3,236.0 439.6,236.0 440.0,236.0 440.4,236.0 440.7,236.0 441.1,236.0 441.5,236.0 441.8,236.0 442.2,236.0 442.6,236.0 443.0,236.0 443.3,236.0 443.7,236.0 444.1,236.0 444.4,236.0 444.8,236.0 445.2,236.0 445.5,236.0 445.9,236.0 446.3,236.0 446.6,236.0 447.0,236.0 447.4,236.0 447.7,236.0 448.1,236.0 448.5,236.0 448.9,236.0 449.2,236.0 449.6,236.0 450.0,236.0 450.3,236.0 450.7,236.0 451.1,236.0 451.4,236.0 451.8,236.0 452.2,236.0 452.5,236.0 452.9,236.0 453.3,236.0 453.6,236.0 454.0,236.0 454.4,236.0 454.8,236.0 455.1,236.0 455.5,236.0 455.9,236.0 456.2,236.0 456.6,236.0 457.0,236.0 457.3,236.0 457.7,236.0 458.1,236.0 458.4,236.0 458.8,236.0 459.2,236.0 459.5,236.0 459.9,236.0 460.3,236.0 460.6,236.0 461.0,236.0 461.4,236.0 461.8,236.0 462.1,236.0 462.5,236.0 462.9,236.0 463.2,236.0 463.6,236.0 464.0,236.0 464.3,236.0 464.7,236.0 465.1,236.0 465.4,236.0 465.8,236.0 466.2,236.0 466.5,236.0 466.9,236.0 467.3,236.0 467.7,236.0 468.0,236.0 468.4,236.0 468.8,236.0 469.1,236.0 469.5,236.0 469.9,236.0 470.2,236.0 470.6,236.0 471.0,236.0 471.3,236.0 471.7,236.0 472.1,236.0 472.4,236.0 472.8,236.0 473.2,236.0 473.6,236.0 473.9,236.0 474.3,236.0 474.7,236.0 475.0,236.0 475.4,236.0 475.8,236.0 476.1,236.0 476.5,236.0 476.9,236.0 477.2,236.0 477.6,236.0 478.0,236.0 478.3,236.0 478.7,236.0 479.1,236.0 479.5,236.0 479.8,236.0 480.2,236.0 480.6,236.0 480.9,236.0 481.3,236.0 481.7,236.0 482.0,236.0 482.4,236.0 482.8,236.0 483.1,236.0 483.5,236.0 483.9,236.0 484.2,236.0 484.6,236.0 485.0,236.0 485.3,236.0 485.7,236.0 486.1,236.0 486.5,236.0 486.8,236.0 487.2,236.0 487.6,236.0 487.9,236.0 488.3,236.0 488.7,236.0 489.0,236.0 489.4,236.0 489.8,236.0 490.1,236.0 490.5,236.0 490.9,236.0 491.2,236.0 491.6,236.0 492.0,236.0 492.4,236.0 492.7,236.0 493.1,236.0 493.5,236.0 493.8,236.0 494.2,236.0 494.6,236.0 494.9,236.0 495.3,236.0 495.7,236.0 496.0,236.0 496.4,236.0 496.8,236.0 497.1,236.0 497.5,236.0 497.9,236.0 498.3,236.0 498.6,236.0 499.0,236.0 499.4,236.0 499.7,236.0 500.1,236.0 500.5,236.0 500.8,236.0 501.2,236.0 501.6,236.0 501.9,236.0 502.3,236.0 502.7,236.0 503.0,236.0 503.4,236.0 503.8,236.0 504.2,236.0 504.5,236.0 504.9,236.0 505.3,236.0 505.6,236.0 506.0,236.0 506.4,236.0 506.7,236.0 507.1,236.0 507.5,236.0 507.8,236.0 508.2,236.0 508.6,236.0 508.9,236.0 509.3,236.0 509.7,236.0 510.1,236.0 510.4,236.0 510.8,236.0 511.2,236.0 511.5,236.0 511.9,236.0 512.3,236.0 512.6,236.0 513.0,236.0 513.4,236.0 513.7,236.0 514.1,236.0 514.5,236.0 514.8,236.0 515.2,236.0 515.6,236.0 515.9,236.0 516.3,236.0 516.7,236.0 517.1,236.0 517.4,236.0 517.8,236.0 518.2,236.0 518.5,236.0 518.9,236.0 519.3,236.0 519.6,236.0 520.0,236.0 520.4,236.0 520.7,236.0 521.1,236.0 521.5,236.0 521.8,236.0 522.2,236.0 522.6,236.0 523.0,236.0 523.3,236.0 523.7,236.0 524.1,236.0 524.4,236.0 524.8,236.0 525.2,236.0 525.5,236.0 525.9,236.0 526.3,236.0 526.6,236.0 527.0,236.0 527.4,236.0 527.7,236.0 528.1,236.0 528.5,236.0 528.9,236.0 529.2,236.0 529.6,236.0 530.0,236.0 530.3,236.0 530.7,236.0 531.1,236.0 531.4,236.0 531.8,236.0 532.2,236.0 532.5,236.0 532.9,236.0 533.3,236.0 533.6,236.0 534.0,236.0 534.4,236.0 534.8,236.0 535.1,236.0 535.5,236.0 535.9,236.0 536.2,236.0 536.6,236.0 537.0,236.0 537.3,236.0 537.7,236.0" fill="none" stroke="#00ffff" stroke-width="1.2" stroke-dasharray="4.5 2.4"/><g stroke="#00ffff" stroke-width="1.1" fill="none"><path d="M318.7 236.0h3.4M320.4 234.3v3.4" stroke-width="1.3"/><path d="M323.7 236.0h3.4M325.4 234.3v3.4" stroke-width="1.3"/><path d="M328.7 236.0h3.4M330.4 234.3v3.4" stroke-width="1.3"/><path d="M333.7 236.0h3.4M335.4 234.3v3.4" stroke-width="1.3"/><path d="M338.7 236.0h3.4M340.4 234.3v3.4" stroke-width="1.3"/><path d="M343.7 236.0h3.4M345.4 234.3v3.4" stroke-width="1.3"/><path d="M348.8 236.0h3.4M350.5 234.3v3.4" stroke-width="1.3"/><path d="M353.8 236.0h3.4M355.5 234.3v3.4" stroke-width="1.3"/><path d="M358.8 236.0h3.4M360.5 234.3v3.4" stroke-width="1.3"/><path d="M363.8 236.0h3.4M365.5 234.3v3.4" stroke-width="1.3"/><path d="M368.8 236.0h3.4M370.5 234.3v3.4" stroke-width="1.3"/><path d="M373.8 236.0h3.4M375.5 234.3v3.4" stroke-width="1.3"/><path d="M378.8 236.0h3.4M380.5 234.3v3.4" stroke-width="1.3"/><path d="M383.9 236.0h3.4M385.6 234.3v3.4" stroke-width="1.3"/><path d="M388.9 236.0h3.4M390.6 234.3v3.4" stroke-width="1.3"/><path d="M393.9 236.0h3.4M395.6 234.3v3.4" stroke-width="1.3"/><path d="M398.9 236.0h3.4M400.6 234.3v3.4" stroke-width="1.3"/><path d="M403.9 236.0h3.4M405.6 234.3v3.4" stroke-width="1.3"/><path d="M408.9 236.0h3.4M410.6 234.3v3.4" stroke-width="1.3"/><path d="M413.9 236.0h3.4M415.6 234.3v3.4" stroke-width="1.3"/><path d="M418.9 236.0h3.4M420.6 234.3v3.4" stroke-width="1.3"/><path d="M424.0 236.0h3.4M425.7 234.3v3.4" stroke-width="1.3"/><path d="M429.0 236.0h3.4M430.7 234.3v3.4" stroke-width="1.3"/><path d="M434.0 236.0h3.4M435.7 234.3v3.4" stroke-width="1.3"/><path d="M439.0 236.0h3.4M440.7 234.3v3.4" stroke-width="1.3"/><path d="M444.0 236.0h3.4M445.7 234.3v3.4" stroke-width="1.3"/><path d="M449.0 236.0h3.4M450.7 234.3v3.4" stroke-width="1.3"/><path d="M454.0 236.0h3.4M455.7 234.3v3.4" stroke-width="1.3"/><path d="M459.1 236.0h3.4M460.8 234.3v3.4" stroke-width="1.3"/><path d="M464.1 236.0h3.4M465.8 234.3v3.4" stroke-width="1.3"/><path d="M469.1 236.0h3.4M470.8 234.3v3.4" stroke-width="1.3"/><path d="M474.1 236.0h3.4M475.8 234.3v3.4" stroke-width="1.3"/><path d="M479.1 236.0h3.4M480.8 234.3v3.4" stroke-width="1.3"/><path d="M484.1 236.0h3.4M485.8 234.3v3.4" stroke-width="1.3"/><path d="M489.1 236.0h3.4M490.8 234.3v3.4" stroke-width="1.3"/><path d="M494.2 236.0h3.4M495.9 234.3v3.4" stroke-width="1.3"/><path d="M499.2 236.0h3.4M500.9 234.3v3.4" stroke-width="1.3"/><path d="M504.2 236.0h3.4M505.9 234.3v3.4" stroke-width="1.3"/><path d="M509.2 236.0h3.4M510.9 234.3v3.4" stroke-width="1.3"/><path d="M514.2 236.0h3.4M515.9 234.3v3.4" stroke-width="1.3"/><path d="M519.2 236.0h3.4M520.9 234.3v3.4" stroke-width="1.3"/><path d="M524.2 236.0h3.4M525.9 234.3v3.4" stroke-width="1.3"/><path d="M529.3 236.0h3.4M531.0 234.3v3.4" stroke-width="1.3"/><path d="M534.3 236.0h3.4M536.0 234.3v3.4" stroke-width="1.3"/></g></g><rect x="27.0" y="36.8" width="91.2" height="58.7" fill="#fff" stroke="#444444" stroke-width="0.9"/><path d="M30.90 42.35H50.00" stroke="#000000" stroke-width="1.25" stroke-dasharray="4.5 2.7" fill="none"/><text x="52.00" y="45.20" class="lg">Normal</text><path d="M30.90 51.80H50.00" stroke="#ff0000" stroke-width="1.25" stroke-dasharray="4.5 2.7" fill="none"/><g fill="#ff0000"><circle cx="40.6" cy="51.8" r="1.25"/></g><text x="52.00" y="54.65" class="lg">One module shorted</text><path d="M30.90 61.25H50.00" stroke="#00ff00" stroke-width="1.25" stroke-dasharray="4.5 2.7" fill="none"/><g fill="#00ff00"><path d="M40.6 59.5l1.7 3.1h-3.4z"/></g><text x="52.00" y="64.10" class="lg">Two module shorted</text><path d="M30.90 70.70H50.00" stroke="#0000ff" stroke-width="1.25" stroke-dasharray="4 1.3 0.7 1.5" fill="none"/><text x="52.00" y="73.55" class="lg">One module shaded</text><path d="M30.90 80.15H50.00" stroke="#ff00ff" stroke-width="1.25" stroke-dasharray="4.5 2.7" fill="none"/><g stroke="#ff00ff" stroke-width="1.1" fill="none"><path d="M39.5 80.2h2.2M40.6 79.1v2.2M39.8 79.4l1.5 1.5M39.8 80.9l1.5 -1.5"/></g><text x="52.00" y="83.00" class="lg">Two module shaded</text><path d="M30.90 89.60H50.00" stroke="#00ffff" stroke-width="1.25" stroke-dasharray="4.5 2.7" fill="none"/><g stroke="#00ffff" stroke-width="1.1" fill="none"><path d="M38.9 89.6h3.4M40.6 87.9v3.4" stroke-width="1.3"/></g><text x="52.00" y="92.45" class="lg">One module opened</text><rect x="316.5" y="12.0" width="91.2" height="58.7" fill="#fff" stroke="#444444" stroke-width="0.9"/><path d="M320.40 17.55H339.50" stroke="#000000" stroke-width="1.25" stroke-dasharray="4.5 2.7" fill="none"/><text x="341.50" y="20.40" class="lg">Normal</text><path d="M320.40 27.00H339.50" stroke="#ff0000" stroke-width="1.25" stroke-dasharray="4.5 2.7" fill="none"/><g fill="#ff0000"><circle cx="330.1" cy="27.0" r="1.25"/></g><text x="341.50" y="29.85" class="lg">One module shorted</text><path d="M320.40 36.45H339.50" stroke="#00ff00" stroke-width="1.25" stroke-dasharray="4.5 2.7" fill="none"/><g fill="#00ff00"><path d="M330.1 34.7l1.7 3.1h-3.4z"/></g><text x="341.50" y="39.30" class="lg">Two module shorted</text><path d="M320.40 45.90H339.50" stroke="#0000ff" stroke-width="1.25" stroke-dasharray="4 1.3 0.7 1.5" fill="none"/><text x="341.50" y="48.75" class="lg">One module shaded</text><path d="M320.40 55.35H339.50" stroke="#ff00ff" stroke-width="1.25" stroke-dasharray="4.5 2.7" fill="none"/><g stroke="#ff00ff" stroke-width="1.1" fill="none"><path d="M329.0 55.3h2.2M330.1 54.2v2.2M329.3 54.6l1.5 1.5M329.3 56.1l1.5 -1.5"/></g><text x="341.50" y="58.20" class="lg">Two module shaded</text><path d="M320.40 64.80H339.50" stroke="#00ffff" stroke-width="1.25" stroke-dasharray="4.5 2.7" fill="none"/><g stroke="#00ffff" stroke-width="1.1" fill="none"><path d="M328.4 64.8h3.4M330.1 63.1v3.4" stroke-width="1.3"/></g><text x="341.50" y="67.65" class="lg">One module opened</text><text x="100.8" y="280.6" class="cap">(<tspan font-weight="bold">a</tspan>) I-V curve</text><text x="374.8" y="280.6" class="cap" style="letter-spacing:0.3px">(<tspan font-weight="bold">b</tspan>) P-V curve</text></svg>
</body></html>
